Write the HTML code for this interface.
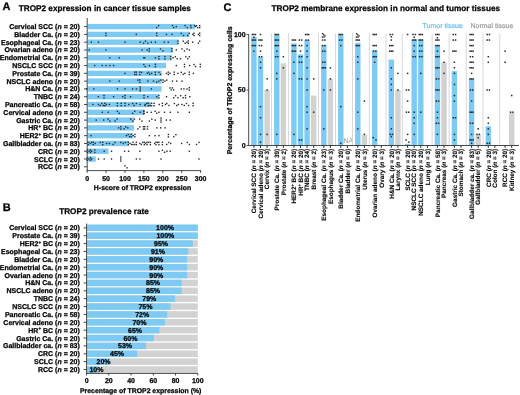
<!DOCTYPE html>
<html><head><meta charset="utf-8"><style>
html,body{margin:0;padding:0;background:#fff;width:520px;height:395px;overflow:hidden}
svg{display:block;will-change:transform;text-rendering:geometricPrecision;font-family:"Liberation Sans",sans-serif}

</style></head><body>
<svg width="520" height="395" viewBox="0 0 520 395">
<text x="2.60" y="9.90" font-size="11" text-anchor="start" font-weight="bold" fill="#000" stroke="#000" stroke-width="0.25" >A</text>
<text x="18.80" y="11.20" font-size="8.2" text-anchor="start" font-weight="bold" fill="#000" stroke="#000" stroke-width="0.25" >TROP2 expression in cancer tissue samples</text>
<rect x="87.70" y="23.90" width="107.30" height="5.40" fill="#7dcbf4"/>
<line x1="84.00" y1="26.60" x2="87.20" y2="26.60" stroke="#333" stroke-width="0.9"/>
<text x="79.80" y="29.10" font-size="7" text-anchor="end" font-weight="bold" fill="#000" stroke="#000" stroke-width="0.25" >Cervical SCC (<tspan font-style="italic">n</tspan> = 20)</text>
<rect x="87.70" y="31.69" width="101.60" height="5.40" fill="#7dcbf4"/>
<line x1="84.00" y1="34.39" x2="87.20" y2="34.39" stroke="#333" stroke-width="0.9"/>
<text x="79.80" y="36.89" font-size="7" text-anchor="end" font-weight="bold" fill="#000" stroke="#000" stroke-width="0.25" >Bladder Ca. (<tspan font-style="italic">n</tspan> = 20)</text>
<rect x="87.70" y="39.48" width="90.80" height="5.40" fill="#7dcbf4"/>
<line x1="84.00" y1="42.18" x2="87.20" y2="42.18" stroke="#333" stroke-width="0.9"/>
<text x="79.80" y="44.68" font-size="7" text-anchor="end" font-weight="bold" fill="#000" stroke="#000" stroke-width="0.25" >Esophageal Ca. (<tspan font-style="italic">n</tspan> = 23)</text>
<rect x="87.70" y="47.27" width="85.10" height="5.40" fill="#7dcbf4"/>
<line x1="84.00" y1="49.97" x2="87.20" y2="49.97" stroke="#333" stroke-width="0.9"/>
<text x="79.80" y="52.47" font-size="7" text-anchor="end" font-weight="bold" fill="#000" stroke="#000" stroke-width="0.25" >Ovarian adeno (<tspan font-style="italic">n</tspan> = 20)</text>
<rect x="87.70" y="55.06" width="83.90" height="5.40" fill="#7dcbf4"/>
<line x1="84.00" y1="57.76" x2="87.20" y2="57.76" stroke="#333" stroke-width="0.9"/>
<text x="79.80" y="60.26" font-size="7" text-anchor="end" font-weight="bold" fill="#000" stroke="#000" stroke-width="0.25" >Endometrial Ca. (<tspan font-style="italic">n</tspan> = 20)</text>
<rect x="87.70" y="62.85" width="78.30" height="5.40" fill="#7dcbf4"/>
<line x1="84.00" y1="65.55" x2="87.20" y2="65.55" stroke="#333" stroke-width="0.9"/>
<text x="79.80" y="68.05" font-size="7" text-anchor="end" font-weight="bold" fill="#000" stroke="#000" stroke-width="0.25" >NSCLC SCC (<tspan font-style="italic">n</tspan> = 20)</text>
<rect x="87.70" y="70.64" width="73.90" height="5.40" fill="#7dcbf4"/>
<line x1="84.00" y1="73.34" x2="87.20" y2="73.34" stroke="#333" stroke-width="0.9"/>
<text x="79.80" y="75.84" font-size="7" text-anchor="end" font-weight="bold" fill="#000" stroke="#000" stroke-width="0.25" >Prostate Ca. (<tspan font-style="italic">n</tspan> = 39)</text>
<rect x="87.70" y="78.43" width="73.90" height="5.40" fill="#7dcbf4"/>
<line x1="84.00" y1="81.13" x2="87.20" y2="81.13" stroke="#333" stroke-width="0.9"/>
<text x="79.80" y="83.63" font-size="7" text-anchor="end" font-weight="bold" fill="#000" stroke="#000" stroke-width="0.25" >NSCLC adeno (<tspan font-style="italic">n</tspan> = 20)</text>
<rect x="87.70" y="86.22" width="73.90" height="5.40" fill="#7dcbf4"/>
<line x1="84.00" y1="88.92" x2="87.20" y2="88.92" stroke="#333" stroke-width="0.9"/>
<text x="79.80" y="91.42" font-size="7" text-anchor="end" font-weight="bold" fill="#000" stroke="#000" stroke-width="0.25" >H&amp;N Ca. (<tspan font-style="italic">n</tspan> = 20)</text>
<rect x="87.70" y="94.01" width="71.00" height="5.40" fill="#7dcbf4"/>
<line x1="84.00" y1="96.71" x2="87.20" y2="96.71" stroke="#333" stroke-width="0.9"/>
<text x="79.80" y="99.21" font-size="7" text-anchor="end" font-weight="bold" fill="#000" stroke="#000" stroke-width="0.25" >TNBC (<tspan font-style="italic">n</tspan> = 24)</text>
<rect x="87.70" y="101.80" width="63.30" height="5.40" fill="#7dcbf4"/>
<line x1="84.00" y1="104.50" x2="87.20" y2="104.50" stroke="#333" stroke-width="0.9"/>
<text x="79.80" y="107.00" font-size="7" text-anchor="end" font-weight="bold" fill="#000" stroke="#000" stroke-width="0.25" >Pancreatic Ca. (<tspan font-style="italic">n</tspan> = 58)</text>
<rect x="87.70" y="109.59" width="56.70" height="5.40" fill="#7dcbf4"/>
<line x1="84.00" y1="112.29" x2="87.20" y2="112.29" stroke="#333" stroke-width="0.9"/>
<text x="79.80" y="114.79" font-size="7" text-anchor="end" font-weight="bold" fill="#000" stroke="#000" stroke-width="0.25" >Cervical adeno (<tspan font-style="italic">n</tspan> = 20)</text>
<rect x="87.70" y="117.38" width="46.30" height="5.40" fill="#7dcbf4"/>
<line x1="84.00" y1="120.08" x2="87.20" y2="120.08" stroke="#333" stroke-width="0.9"/>
<text x="79.80" y="122.58" font-size="7" text-anchor="end" font-weight="bold" fill="#000" stroke="#000" stroke-width="0.25" >Gastric Ca. (<tspan font-style="italic">n</tspan> = 20)</text>
<rect x="87.70" y="125.17" width="46.30" height="5.40" fill="#7dcbf4"/>
<line x1="84.00" y1="127.87" x2="87.20" y2="127.87" stroke="#333" stroke-width="0.9"/>
<text x="79.80" y="130.37" font-size="7" text-anchor="end" font-weight="bold" fill="#000" stroke="#000" stroke-width="0.25" >HR<tspan font-size='4.5' dy='-2.5'>+</tspan><tspan dy='2.5'> BC</tspan> (<tspan font-style="italic">n</tspan> = 20)</text>
<rect x="87.70" y="132.96" width="45.50" height="5.40" fill="#7dcbf4"/>
<line x1="84.00" y1="135.66" x2="87.20" y2="135.66" stroke="#333" stroke-width="0.9"/>
<text x="79.80" y="138.16" font-size="7" text-anchor="end" font-weight="bold" fill="#000" stroke="#000" stroke-width="0.25" >HER2<tspan font-size='4.5' dy='-2.5'>+</tspan><tspan dy='2.5'> BC</tspan> (<tspan font-style="italic">n</tspan> = 20)</text>
<rect x="87.70" y="140.75" width="41.30" height="5.40" fill="#7dcbf4"/>
<line x1="84.00" y1="143.45" x2="87.20" y2="143.45" stroke="#333" stroke-width="0.9"/>
<text x="79.80" y="145.95" font-size="7" text-anchor="end" font-weight="bold" fill="#000" stroke="#000" stroke-width="0.25" >Gallbladder ca. (<tspan font-style="italic">n</tspan> = 83)</text>
<rect x="87.70" y="148.54" width="20.80" height="5.40" fill="#7dcbf4"/>
<line x1="84.00" y1="151.24" x2="87.20" y2="151.24" stroke="#333" stroke-width="0.9"/>
<text x="79.80" y="153.74" font-size="7" text-anchor="end" font-weight="bold" fill="#000" stroke="#000" stroke-width="0.25" >CRC (<tspan font-style="italic">n</tspan> = 20)</text>
<rect x="87.70" y="156.33" width="8.10" height="5.40" fill="#7dcbf4"/>
<line x1="84.00" y1="159.03" x2="87.20" y2="159.03" stroke="#333" stroke-width="0.9"/>
<text x="79.80" y="161.53" font-size="7" text-anchor="end" font-weight="bold" fill="#000" stroke="#000" stroke-width="0.25" >SCLC (<tspan font-style="italic">n</tspan> = 20)</text>
<line x1="84.00" y1="166.82" x2="87.20" y2="166.82" stroke="#333" stroke-width="0.9"/>
<text x="79.80" y="169.32" font-size="7" text-anchor="end" font-weight="bold" fill="#000" stroke="#000" stroke-width="0.25" >RCC (<tspan font-style="italic">n</tspan> = 20)</text>
<rect x="156.00" y="26.90" width="1.40" height="1.40" fill="#2a2a2a"/>
<rect x="157.90" y="24.90" width="1.40" height="1.40" fill="#2a2a2a"/>
<rect x="171.80" y="24.90" width="1.40" height="1.40" fill="#2a2a2a"/>
<rect x="173.00" y="26.90" width="1.40" height="1.40" fill="#2a2a2a"/>
<rect x="175.60" y="25.90" width="1.40" height="1.40" fill="#2a2a2a"/>
<rect x="184.40" y="24.90" width="1.40" height="1.40" fill="#2a2a2a"/>
<rect x="186.60" y="26.90" width="1.40" height="1.40" fill="#2a2a2a"/>
<rect x="190.10" y="24.90" width="1.40" height="1.40" fill="#2a2a2a"/>
<rect x="190.30" y="26.90" width="1.40" height="1.40" fill="#2a2a2a"/>
<rect x="193.90" y="24.90" width="1.40" height="1.40" fill="#2a2a2a"/>
<rect x="194.90" y="25.90" width="1.40" height="1.40" fill="#2a2a2a"/>
<rect x="195.80" y="24.90" width="1.40" height="1.40" fill="#2a2a2a"/>
<rect x="197.10" y="26.90" width="1.40" height="1.40" fill="#2a2a2a"/>
<rect x="199.00" y="24.90" width="1.40" height="1.40" fill="#2a2a2a"/>
<rect x="199.00" y="26.90" width="1.40" height="1.40" fill="#2a2a2a"/>
<rect x="105.20" y="32.49" width="1.40" height="1.40" fill="#2a2a2a"/>
<rect x="105.20" y="34.89" width="1.40" height="1.40" fill="#2a2a2a"/>
<rect x="135.60" y="33.69" width="1.40" height="1.40" fill="#2a2a2a"/>
<rect x="156.00" y="32.49" width="1.40" height="1.40" fill="#2a2a2a"/>
<rect x="156.00" y="34.89" width="1.40" height="1.40" fill="#2a2a2a"/>
<rect x="165.80" y="33.69" width="1.40" height="1.40" fill="#2a2a2a"/>
<rect x="171.40" y="33.69" width="1.40" height="1.40" fill="#2a2a2a"/>
<rect x="180.60" y="32.69" width="1.40" height="1.40" fill="#2a2a2a"/>
<rect x="182.80" y="34.69" width="1.40" height="1.40" fill="#2a2a2a"/>
<rect x="187.00" y="34.69" width="1.40" height="1.40" fill="#2a2a2a"/>
<rect x="188.60" y="32.69" width="1.40" height="1.40" fill="#2a2a2a"/>
<rect x="192.00" y="33.69" width="1.40" height="1.40" fill="#2a2a2a"/>
<rect x="193.30" y="32.49" width="1.40" height="1.40" fill="#2a2a2a"/>
<rect x="193.30" y="34.89" width="1.40" height="1.40" fill="#2a2a2a"/>
<rect x="197.70" y="33.69" width="1.40" height="1.40" fill="#2a2a2a"/>
<rect x="199.00" y="32.49" width="1.40" height="1.40" fill="#2a2a2a"/>
<rect x="199.00" y="34.89" width="1.40" height="1.40" fill="#2a2a2a"/>
<rect x="90.60" y="41.48" width="1.40" height="1.40" fill="#2a2a2a"/>
<rect x="97.70" y="41.48" width="1.40" height="1.40" fill="#2a2a2a"/>
<rect x="124.30" y="41.48" width="1.40" height="1.40" fill="#2a2a2a"/>
<rect x="139.50" y="41.48" width="1.40" height="1.40" fill="#2a2a2a"/>
<rect x="142.90" y="42.48" width="1.40" height="1.40" fill="#2a2a2a"/>
<rect x="144.80" y="40.48" width="1.40" height="1.40" fill="#2a2a2a"/>
<rect x="147.10" y="42.48" width="1.40" height="1.40" fill="#2a2a2a"/>
<rect x="150.60" y="41.48" width="1.40" height="1.40" fill="#2a2a2a"/>
<rect x="154.70" y="41.48" width="1.40" height="1.40" fill="#2a2a2a"/>
<rect x="163.60" y="41.48" width="1.40" height="1.40" fill="#2a2a2a"/>
<rect x="167.60" y="41.48" width="1.40" height="1.40" fill="#2a2a2a"/>
<rect x="177.20" y="40.28" width="1.40" height="1.40" fill="#2a2a2a"/>
<rect x="177.20" y="42.68" width="1.40" height="1.40" fill="#2a2a2a"/>
<rect x="182.50" y="40.48" width="1.40" height="1.40" fill="#2a2a2a"/>
<rect x="184.40" y="42.48" width="1.40" height="1.40" fill="#2a2a2a"/>
<rect x="186.30" y="41.48" width="1.40" height="1.40" fill="#2a2a2a"/>
<rect x="187.60" y="40.28" width="1.40" height="1.40" fill="#2a2a2a"/>
<rect x="187.60" y="42.68" width="1.40" height="1.40" fill="#2a2a2a"/>
<rect x="192.00" y="41.48" width="1.40" height="1.40" fill="#2a2a2a"/>
<rect x="197.70" y="42.48" width="1.40" height="1.40" fill="#2a2a2a"/>
<rect x="199.00" y="40.48" width="1.40" height="1.40" fill="#2a2a2a"/>
<rect x="88.50" y="49.27" width="1.40" height="1.40" fill="#2a2a2a"/>
<rect x="105.20" y="49.27" width="1.40" height="1.40" fill="#2a2a2a"/>
<rect x="141.40" y="49.27" width="1.40" height="1.40" fill="#2a2a2a"/>
<rect x="146.50" y="49.27" width="1.40" height="1.40" fill="#2a2a2a"/>
<rect x="148.60" y="48.07" width="1.40" height="1.40" fill="#2a2a2a"/>
<rect x="148.60" y="50.47" width="1.40" height="1.40" fill="#2a2a2a"/>
<rect x="159.80" y="48.27" width="1.40" height="1.40" fill="#2a2a2a"/>
<rect x="162.30" y="50.27" width="1.40" height="1.40" fill="#2a2a2a"/>
<rect x="171.10" y="48.07" width="1.40" height="1.40" fill="#2a2a2a"/>
<rect x="171.10" y="50.47" width="1.40" height="1.40" fill="#2a2a2a"/>
<rect x="175.60" y="49.27" width="1.40" height="1.40" fill="#2a2a2a"/>
<rect x="181.30" y="48.27" width="1.40" height="1.40" fill="#2a2a2a"/>
<rect x="183.80" y="50.27" width="1.40" height="1.40" fill="#2a2a2a"/>
<rect x="186.30" y="48.27" width="1.40" height="1.40" fill="#2a2a2a"/>
<rect x="188.60" y="49.27" width="1.40" height="1.40" fill="#2a2a2a"/>
<rect x="109.10" y="57.06" width="1.40" height="1.40" fill="#2a2a2a"/>
<rect x="118.50" y="57.06" width="1.40" height="1.40" fill="#2a2a2a"/>
<rect x="143.10" y="57.06" width="1.40" height="1.40" fill="#2a2a2a"/>
<rect x="143.90" y="57.06" width="1.40" height="1.40" fill="#2a2a2a"/>
<rect x="154.70" y="57.06" width="1.40" height="1.40" fill="#2a2a2a"/>
<rect x="158.20" y="55.86" width="1.40" height="1.40" fill="#2a2a2a"/>
<rect x="158.20" y="58.26" width="1.40" height="1.40" fill="#2a2a2a"/>
<rect x="164.20" y="55.86" width="1.40" height="1.40" fill="#2a2a2a"/>
<rect x="164.20" y="58.26" width="1.40" height="1.40" fill="#2a2a2a"/>
<rect x="169.90" y="55.86" width="1.40" height="1.40" fill="#2a2a2a"/>
<rect x="169.90" y="58.26" width="1.40" height="1.40" fill="#2a2a2a"/>
<rect x="172.40" y="57.06" width="1.40" height="1.40" fill="#2a2a2a"/>
<rect x="174.70" y="56.06" width="1.40" height="1.40" fill="#2a2a2a"/>
<rect x="176.50" y="58.06" width="1.40" height="1.40" fill="#2a2a2a"/>
<rect x="179.80" y="58.06" width="1.40" height="1.40" fill="#2a2a2a"/>
<rect x="185.10" y="56.06" width="1.40" height="1.40" fill="#2a2a2a"/>
<rect x="187.00" y="58.06" width="1.40" height="1.40" fill="#2a2a2a"/>
<rect x="188.60" y="56.06" width="1.40" height="1.40" fill="#2a2a2a"/>
<rect x="93.90" y="64.85" width="1.40" height="1.40" fill="#2a2a2a"/>
<rect x="101.50" y="64.85" width="1.40" height="1.40" fill="#2a2a2a"/>
<rect x="105.30" y="64.85" width="1.40" height="1.40" fill="#2a2a2a"/>
<rect x="109.10" y="64.85" width="1.40" height="1.40" fill="#2a2a2a"/>
<rect x="112.90" y="64.85" width="1.40" height="1.40" fill="#2a2a2a"/>
<rect x="143.10" y="63.85" width="1.40" height="1.40" fill="#2a2a2a"/>
<rect x="144.50" y="65.85" width="1.40" height="1.40" fill="#2a2a2a"/>
<rect x="148.60" y="64.85" width="1.40" height="1.40" fill="#2a2a2a"/>
<rect x="154.70" y="63.65" width="1.40" height="1.40" fill="#2a2a2a"/>
<rect x="154.70" y="66.05" width="1.40" height="1.40" fill="#2a2a2a"/>
<rect x="175.60" y="64.85" width="1.40" height="1.40" fill="#2a2a2a"/>
<rect x="183.80" y="63.65" width="1.40" height="1.40" fill="#2a2a2a"/>
<rect x="183.80" y="66.05" width="1.40" height="1.40" fill="#2a2a2a"/>
<rect x="188.90" y="64.85" width="1.40" height="1.40" fill="#2a2a2a"/>
<rect x="193.30" y="63.85" width="1.40" height="1.40" fill="#2a2a2a"/>
<rect x="194.90" y="65.85" width="1.40" height="1.40" fill="#2a2a2a"/>
<rect x="199.60" y="63.65" width="1.40" height="1.40" fill="#2a2a2a"/>
<rect x="199.60" y="66.05" width="1.40" height="1.40" fill="#2a2a2a"/>
<rect x="124.30" y="72.64" width="1.40" height="1.40" fill="#2a2a2a"/>
<rect x="134.00" y="71.44" width="1.40" height="1.40" fill="#2a2a2a"/>
<rect x="134.00" y="73.84" width="1.40" height="1.40" fill="#2a2a2a"/>
<rect x="135.70" y="71.44" width="1.40" height="1.40" fill="#2a2a2a"/>
<rect x="135.70" y="73.84" width="1.40" height="1.40" fill="#2a2a2a"/>
<rect x="139.10" y="71.44" width="1.40" height="1.40" fill="#2a2a2a"/>
<rect x="139.10" y="73.84" width="1.40" height="1.40" fill="#2a2a2a"/>
<rect x="141.00" y="71.64" width="1.40" height="1.40" fill="#2a2a2a"/>
<rect x="146.50" y="72.64" width="1.40" height="1.40" fill="#2a2a2a"/>
<rect x="147.90" y="71.64" width="1.40" height="1.40" fill="#2a2a2a"/>
<rect x="148.90" y="73.64" width="1.40" height="1.40" fill="#2a2a2a"/>
<rect x="150.90" y="72.64" width="1.40" height="1.40" fill="#2a2a2a"/>
<rect x="154.70" y="71.44" width="1.40" height="1.40" fill="#2a2a2a"/>
<rect x="154.70" y="73.84" width="1.40" height="1.40" fill="#2a2a2a"/>
<rect x="158.20" y="71.64" width="1.40" height="1.40" fill="#2a2a2a"/>
<rect x="159.80" y="73.64" width="1.40" height="1.40" fill="#2a2a2a"/>
<rect x="165.80" y="72.64" width="1.40" height="1.40" fill="#2a2a2a"/>
<rect x="167.60" y="71.44" width="1.40" height="1.40" fill="#2a2a2a"/>
<rect x="167.60" y="73.84" width="1.40" height="1.40" fill="#2a2a2a"/>
<rect x="169.30" y="72.64" width="1.40" height="1.40" fill="#2a2a2a"/>
<rect x="173.40" y="71.44" width="1.40" height="1.40" fill="#2a2a2a"/>
<rect x="173.40" y="73.84" width="1.40" height="1.40" fill="#2a2a2a"/>
<rect x="177.20" y="72.64" width="1.40" height="1.40" fill="#2a2a2a"/>
<rect x="180.60" y="71.64" width="1.40" height="1.40" fill="#2a2a2a"/>
<rect x="182.50" y="73.64" width="1.40" height="1.40" fill="#2a2a2a"/>
<rect x="184.10" y="72.64" width="1.40" height="1.40" fill="#2a2a2a"/>
<rect x="188.60" y="71.44" width="1.40" height="1.40" fill="#2a2a2a"/>
<rect x="188.60" y="73.84" width="1.40" height="1.40" fill="#2a2a2a"/>
<rect x="192.70" y="72.64" width="1.40" height="1.40" fill="#2a2a2a"/>
<rect x="109.10" y="80.43" width="1.40" height="1.40" fill="#2a2a2a"/>
<rect x="118.50" y="80.43" width="1.40" height="1.40" fill="#2a2a2a"/>
<rect x="137.20" y="79.43" width="1.40" height="1.40" fill="#2a2a2a"/>
<rect x="139.10" y="79.23" width="1.40" height="1.40" fill="#2a2a2a"/>
<rect x="139.10" y="81.63" width="1.40" height="1.40" fill="#2a2a2a"/>
<rect x="147.10" y="80.43" width="1.40" height="1.40" fill="#2a2a2a"/>
<rect x="152.80" y="80.43" width="1.40" height="1.40" fill="#2a2a2a"/>
<rect x="156.00" y="81.43" width="1.40" height="1.40" fill="#2a2a2a"/>
<rect x="158.20" y="80.43" width="1.40" height="1.40" fill="#2a2a2a"/>
<rect x="160.30" y="79.43" width="1.40" height="1.40" fill="#2a2a2a"/>
<rect x="162.30" y="79.23" width="1.40" height="1.40" fill="#2a2a2a"/>
<rect x="162.30" y="81.63" width="1.40" height="1.40" fill="#2a2a2a"/>
<rect x="164.20" y="80.43" width="1.40" height="1.40" fill="#2a2a2a"/>
<rect x="166.10" y="79.43" width="1.40" height="1.40" fill="#2a2a2a"/>
<rect x="171.80" y="80.43" width="1.40" height="1.40" fill="#2a2a2a"/>
<rect x="176.00" y="80.43" width="1.40" height="1.40" fill="#2a2a2a"/>
<rect x="181.30" y="80.43" width="1.40" height="1.40" fill="#2a2a2a"/>
<rect x="85.90" y="88.22" width="1.40" height="1.40" fill="#2a2a2a"/>
<rect x="93.10" y="88.22" width="1.40" height="1.40" fill="#2a2a2a"/>
<rect x="116.70" y="88.22" width="1.40" height="1.40" fill="#2a2a2a"/>
<rect x="124.30" y="88.22" width="1.40" height="1.40" fill="#2a2a2a"/>
<rect x="131.90" y="88.22" width="1.40" height="1.40" fill="#2a2a2a"/>
<rect x="135.70" y="88.22" width="1.40" height="1.40" fill="#2a2a2a"/>
<rect x="139.50" y="86.22" width="1.40" height="1.40" fill="#2a2a2a"/>
<rect x="139.50" y="88.22" width="1.40" height="1.40" fill="#2a2a2a"/>
<rect x="139.50" y="90.22" width="1.40" height="1.40" fill="#2a2a2a"/>
<rect x="150.60" y="88.22" width="1.40" height="1.40" fill="#2a2a2a"/>
<rect x="169.30" y="87.22" width="1.40" height="1.40" fill="#2a2a2a"/>
<rect x="170.50" y="89.22" width="1.40" height="1.40" fill="#2a2a2a"/>
<rect x="171.70" y="87.22" width="1.40" height="1.40" fill="#2a2a2a"/>
<rect x="173.00" y="89.22" width="1.40" height="1.40" fill="#2a2a2a"/>
<rect x="180.60" y="88.22" width="1.40" height="1.40" fill="#2a2a2a"/>
<rect x="183.20" y="88.22" width="1.40" height="1.40" fill="#2a2a2a"/>
<rect x="186.30" y="88.22" width="1.40" height="1.40" fill="#2a2a2a"/>
<rect x="188.60" y="87.02" width="1.40" height="1.40" fill="#2a2a2a"/>
<rect x="188.60" y="89.42" width="1.40" height="1.40" fill="#2a2a2a"/>
<rect x="97.70" y="96.01" width="1.40" height="1.40" fill="#2a2a2a"/>
<rect x="103.30" y="94.81" width="1.40" height="1.40" fill="#2a2a2a"/>
<rect x="103.30" y="97.21" width="1.40" height="1.40" fill="#2a2a2a"/>
<rect x="112.90" y="96.01" width="1.40" height="1.40" fill="#2a2a2a"/>
<rect x="122.00" y="96.01" width="1.40" height="1.40" fill="#2a2a2a"/>
<rect x="124.30" y="94.81" width="1.40" height="1.40" fill="#2a2a2a"/>
<rect x="124.30" y="97.21" width="1.40" height="1.40" fill="#2a2a2a"/>
<rect x="129.90" y="96.01" width="1.40" height="1.40" fill="#2a2a2a"/>
<rect x="143.30" y="94.81" width="1.40" height="1.40" fill="#2a2a2a"/>
<rect x="143.30" y="97.21" width="1.40" height="1.40" fill="#2a2a2a"/>
<rect x="147.10" y="96.01" width="1.40" height="1.40" fill="#2a2a2a"/>
<rect x="156.00" y="96.01" width="1.40" height="1.40" fill="#2a2a2a"/>
<rect x="158.20" y="94.81" width="1.40" height="1.40" fill="#2a2a2a"/>
<rect x="158.20" y="97.21" width="1.40" height="1.40" fill="#2a2a2a"/>
<rect x="165.80" y="96.01" width="1.40" height="1.40" fill="#2a2a2a"/>
<rect x="173.00" y="97.01" width="1.40" height="1.40" fill="#2a2a2a"/>
<rect x="174.90" y="95.01" width="1.40" height="1.40" fill="#2a2a2a"/>
<rect x="177.20" y="97.01" width="1.40" height="1.40" fill="#2a2a2a"/>
<rect x="180.00" y="95.01" width="1.40" height="1.40" fill="#2a2a2a"/>
<rect x="182.50" y="97.01" width="1.40" height="1.40" fill="#2a2a2a"/>
<rect x="184.80" y="94.81" width="1.40" height="1.40" fill="#2a2a2a"/>
<rect x="184.80" y="97.21" width="1.40" height="1.40" fill="#2a2a2a"/>
<rect x="189.10" y="96.01" width="1.40" height="1.40" fill="#2a2a2a"/>
<rect x="92.30" y="103.80" width="1.40" height="1.40" fill="#2a2a2a"/>
<rect x="97.70" y="103.80" width="1.40" height="1.40" fill="#2a2a2a"/>
<rect x="99.50" y="104.80" width="1.40" height="1.40" fill="#2a2a2a"/>
<rect x="101.10" y="102.80" width="1.40" height="1.40" fill="#2a2a2a"/>
<rect x="102.60" y="104.80" width="1.40" height="1.40" fill="#2a2a2a"/>
<rect x="104.10" y="102.60" width="1.40" height="1.40" fill="#2a2a2a"/>
<rect x="104.10" y="105.00" width="1.40" height="1.40" fill="#2a2a2a"/>
<rect x="105.60" y="103.80" width="1.40" height="1.40" fill="#2a2a2a"/>
<rect x="108.70" y="103.80" width="1.40" height="1.40" fill="#2a2a2a"/>
<rect x="116.70" y="102.60" width="1.40" height="1.40" fill="#2a2a2a"/>
<rect x="116.70" y="105.00" width="1.40" height="1.40" fill="#2a2a2a"/>
<rect x="120.50" y="102.60" width="1.40" height="1.40" fill="#2a2a2a"/>
<rect x="120.50" y="105.00" width="1.40" height="1.40" fill="#2a2a2a"/>
<rect x="124.30" y="102.60" width="1.40" height="1.40" fill="#2a2a2a"/>
<rect x="124.30" y="105.00" width="1.40" height="1.40" fill="#2a2a2a"/>
<rect x="128.10" y="103.80" width="1.40" height="1.40" fill="#2a2a2a"/>
<rect x="131.90" y="102.80" width="1.40" height="1.40" fill="#2a2a2a"/>
<rect x="133.40" y="104.80" width="1.40" height="1.40" fill="#2a2a2a"/>
<rect x="135.70" y="102.80" width="1.40" height="1.40" fill="#2a2a2a"/>
<rect x="139.50" y="103.80" width="1.40" height="1.40" fill="#2a2a2a"/>
<rect x="144.20" y="104.80" width="1.40" height="1.40" fill="#2a2a2a"/>
<rect x="144.60" y="103.80" width="1.40" height="1.40" fill="#2a2a2a"/>
<rect x="146.10" y="102.80" width="1.40" height="1.40" fill="#2a2a2a"/>
<rect x="147.60" y="102.60" width="1.40" height="1.40" fill="#2a2a2a"/>
<rect x="147.60" y="105.00" width="1.40" height="1.40" fill="#2a2a2a"/>
<rect x="149.30" y="104.80" width="1.40" height="1.40" fill="#2a2a2a"/>
<rect x="150.90" y="102.60" width="1.40" height="1.40" fill="#2a2a2a"/>
<rect x="150.90" y="105.00" width="1.40" height="1.40" fill="#2a2a2a"/>
<rect x="153.40" y="102.60" width="1.40" height="1.40" fill="#2a2a2a"/>
<rect x="153.40" y="105.00" width="1.40" height="1.40" fill="#2a2a2a"/>
<rect x="158.50" y="103.80" width="1.40" height="1.40" fill="#2a2a2a"/>
<rect x="161.70" y="102.60" width="1.40" height="1.40" fill="#2a2a2a"/>
<rect x="161.70" y="105.00" width="1.40" height="1.40" fill="#2a2a2a"/>
<rect x="164.80" y="103.80" width="1.40" height="1.40" fill="#2a2a2a"/>
<rect x="166.10" y="102.80" width="1.40" height="1.40" fill="#2a2a2a"/>
<rect x="168.30" y="104.80" width="1.40" height="1.40" fill="#2a2a2a"/>
<rect x="173.70" y="102.80" width="1.40" height="1.40" fill="#2a2a2a"/>
<rect x="176.00" y="104.80" width="1.40" height="1.40" fill="#2a2a2a"/>
<rect x="177.70" y="103.80" width="1.40" height="1.40" fill="#2a2a2a"/>
<rect x="181.30" y="103.80" width="1.40" height="1.40" fill="#2a2a2a"/>
<rect x="183.60" y="104.80" width="1.40" height="1.40" fill="#2a2a2a"/>
<rect x="185.70" y="102.80" width="1.40" height="1.40" fill="#2a2a2a"/>
<rect x="187.90" y="104.80" width="1.40" height="1.40" fill="#2a2a2a"/>
<rect x="192.40" y="102.60" width="1.40" height="1.40" fill="#2a2a2a"/>
<rect x="192.40" y="105.00" width="1.40" height="1.40" fill="#2a2a2a"/>
<rect x="101.50" y="111.59" width="1.40" height="1.40" fill="#2a2a2a"/>
<rect x="107.50" y="111.59" width="1.40" height="1.40" fill="#2a2a2a"/>
<rect x="116.70" y="110.59" width="1.40" height="1.40" fill="#2a2a2a"/>
<rect x="118.50" y="112.59" width="1.40" height="1.40" fill="#2a2a2a"/>
<rect x="131.90" y="112.59" width="1.40" height="1.40" fill="#2a2a2a"/>
<rect x="134.00" y="110.59" width="1.40" height="1.40" fill="#2a2a2a"/>
<rect x="139.50" y="111.59" width="1.40" height="1.40" fill="#2a2a2a"/>
<rect x="142.90" y="110.39" width="1.40" height="1.40" fill="#2a2a2a"/>
<rect x="142.90" y="112.79" width="1.40" height="1.40" fill="#2a2a2a"/>
<rect x="143.30" y="110.39" width="1.40" height="1.40" fill="#2a2a2a"/>
<rect x="143.30" y="112.79" width="1.40" height="1.40" fill="#2a2a2a"/>
<rect x="146.50" y="111.59" width="1.40" height="1.40" fill="#2a2a2a"/>
<rect x="150.60" y="111.59" width="1.40" height="1.40" fill="#2a2a2a"/>
<rect x="154.40" y="110.59" width="1.40" height="1.40" fill="#2a2a2a"/>
<rect x="156.00" y="112.59" width="1.40" height="1.40" fill="#2a2a2a"/>
<rect x="158.20" y="111.59" width="1.40" height="1.40" fill="#2a2a2a"/>
<rect x="163.80" y="111.59" width="1.40" height="1.40" fill="#2a2a2a"/>
<rect x="169.60" y="111.59" width="1.40" height="1.40" fill="#2a2a2a"/>
<rect x="177.20" y="111.59" width="1.40" height="1.40" fill="#2a2a2a"/>
<rect x="188.60" y="111.59" width="1.40" height="1.40" fill="#2a2a2a"/>
<rect x="95.50" y="119.38" width="1.40" height="1.40" fill="#2a2a2a"/>
<rect x="103.00" y="119.38" width="1.40" height="1.40" fill="#2a2a2a"/>
<rect x="107.30" y="118.38" width="1.40" height="1.40" fill="#2a2a2a"/>
<rect x="109.10" y="120.38" width="1.40" height="1.40" fill="#2a2a2a"/>
<rect x="114.40" y="120.38" width="1.40" height="1.40" fill="#2a2a2a"/>
<rect x="116.50" y="118.38" width="1.40" height="1.40" fill="#2a2a2a"/>
<rect x="130.00" y="118.38" width="1.40" height="1.40" fill="#2a2a2a"/>
<rect x="132.10" y="120.38" width="1.40" height="1.40" fill="#2a2a2a"/>
<rect x="133.80" y="118.38" width="1.40" height="1.40" fill="#2a2a2a"/>
<rect x="138.90" y="118.38" width="1.40" height="1.40" fill="#2a2a2a"/>
<rect x="141.30" y="120.38" width="1.40" height="1.40" fill="#2a2a2a"/>
<rect x="148.70" y="120.38" width="1.40" height="1.40" fill="#2a2a2a"/>
<rect x="151.10" y="118.38" width="1.40" height="1.40" fill="#2a2a2a"/>
<rect x="154.60" y="119.38" width="1.40" height="1.40" fill="#2a2a2a"/>
<rect x="160.30" y="117.38" width="1.40" height="1.40" fill="#2a2a2a"/>
<rect x="160.30" y="119.38" width="1.40" height="1.40" fill="#2a2a2a"/>
<rect x="160.30" y="121.38" width="1.40" height="1.40" fill="#2a2a2a"/>
<rect x="165.70" y="119.38" width="1.40" height="1.40" fill="#2a2a2a"/>
<rect x="169.50" y="119.38" width="1.40" height="1.40" fill="#2a2a2a"/>
<rect x="117.90" y="127.17" width="1.40" height="1.40" fill="#2a2a2a"/>
<rect x="120.10" y="125.97" width="1.40" height="1.40" fill="#2a2a2a"/>
<rect x="120.10" y="128.37" width="1.40" height="1.40" fill="#2a2a2a"/>
<rect x="123.30" y="128.17" width="1.40" height="1.40" fill="#2a2a2a"/>
<rect x="125.00" y="126.17" width="1.40" height="1.40" fill="#2a2a2a"/>
<rect x="127.10" y="127.17" width="1.40" height="1.40" fill="#2a2a2a"/>
<rect x="137.10" y="128.17" width="1.40" height="1.40" fill="#2a2a2a"/>
<rect x="139.20" y="126.17" width="1.40" height="1.40" fill="#2a2a2a"/>
<rect x="142.70" y="125.97" width="1.40" height="1.40" fill="#2a2a2a"/>
<rect x="142.70" y="128.37" width="1.40" height="1.40" fill="#2a2a2a"/>
<rect x="144.00" y="125.97" width="1.40" height="1.40" fill="#2a2a2a"/>
<rect x="144.00" y="128.37" width="1.40" height="1.40" fill="#2a2a2a"/>
<rect x="146.80" y="125.97" width="1.40" height="1.40" fill="#2a2a2a"/>
<rect x="146.80" y="128.37" width="1.40" height="1.40" fill="#2a2a2a"/>
<rect x="156.30" y="127.17" width="1.40" height="1.40" fill="#2a2a2a"/>
<rect x="160.00" y="127.17" width="1.40" height="1.40" fill="#2a2a2a"/>
<rect x="164.30" y="127.17" width="1.40" height="1.40" fill="#2a2a2a"/>
<rect x="90.30" y="134.96" width="1.40" height="1.40" fill="#2a2a2a"/>
<rect x="125.70" y="134.96" width="1.40" height="1.40" fill="#2a2a2a"/>
<rect x="127.50" y="133.96" width="1.40" height="1.40" fill="#2a2a2a"/>
<rect x="128.90" y="135.96" width="1.40" height="1.40" fill="#2a2a2a"/>
<rect x="130.50" y="133.76" width="1.40" height="1.40" fill="#2a2a2a"/>
<rect x="130.50" y="136.16" width="1.40" height="1.40" fill="#2a2a2a"/>
<rect x="132.50" y="134.96" width="1.40" height="1.40" fill="#2a2a2a"/>
<rect x="134.20" y="133.76" width="1.40" height="1.40" fill="#2a2a2a"/>
<rect x="134.20" y="136.16" width="1.40" height="1.40" fill="#2a2a2a"/>
<rect x="148.70" y="134.96" width="1.40" height="1.40" fill="#2a2a2a"/>
<rect x="154.30" y="134.96" width="1.40" height="1.40" fill="#2a2a2a"/>
<rect x="158.20" y="134.96" width="1.40" height="1.40" fill="#2a2a2a"/>
<rect x="167.70" y="133.76" width="1.40" height="1.40" fill="#2a2a2a"/>
<rect x="167.70" y="136.16" width="1.40" height="1.40" fill="#2a2a2a"/>
<rect x="173.10" y="135.96" width="1.40" height="1.40" fill="#2a2a2a"/>
<rect x="175.20" y="133.96" width="1.40" height="1.40" fill="#2a2a2a"/>
<rect x="87.40" y="141.55" width="1.40" height="1.40" fill="#2a2a2a"/>
<rect x="87.40" y="143.95" width="1.40" height="1.40" fill="#2a2a2a"/>
<rect x="89.30" y="142.75" width="1.40" height="1.40" fill="#2a2a2a"/>
<rect x="90.90" y="141.75" width="1.40" height="1.40" fill="#2a2a2a"/>
<rect x="92.60" y="141.55" width="1.40" height="1.40" fill="#2a2a2a"/>
<rect x="92.60" y="143.95" width="1.40" height="1.40" fill="#2a2a2a"/>
<rect x="94.50" y="142.75" width="1.40" height="1.40" fill="#2a2a2a"/>
<rect x="99.50" y="141.75" width="1.40" height="1.40" fill="#2a2a2a"/>
<rect x="102.00" y="141.55" width="1.40" height="1.40" fill="#2a2a2a"/>
<rect x="102.00" y="143.95" width="1.40" height="1.40" fill="#2a2a2a"/>
<rect x="105.90" y="142.75" width="1.40" height="1.40" fill="#2a2a2a"/>
<rect x="108.70" y="142.75" width="1.40" height="1.40" fill="#2a2a2a"/>
<rect x="112.30" y="143.75" width="1.40" height="1.40" fill="#2a2a2a"/>
<rect x="114.40" y="141.75" width="1.40" height="1.40" fill="#2a2a2a"/>
<rect x="120.10" y="141.75" width="1.40" height="1.40" fill="#2a2a2a"/>
<rect x="122.50" y="142.75" width="1.40" height="1.40" fill="#2a2a2a"/>
<rect x="124.70" y="141.75" width="1.40" height="1.40" fill="#2a2a2a"/>
<rect x="127.60" y="141.55" width="1.40" height="1.40" fill="#2a2a2a"/>
<rect x="127.60" y="143.95" width="1.40" height="1.40" fill="#2a2a2a"/>
<rect x="129.30" y="142.75" width="1.40" height="1.40" fill="#2a2a2a"/>
<rect x="130.80" y="143.75" width="1.40" height="1.40" fill="#2a2a2a"/>
<rect x="132.30" y="141.55" width="1.40" height="1.40" fill="#2a2a2a"/>
<rect x="132.30" y="143.95" width="1.40" height="1.40" fill="#2a2a2a"/>
<rect x="134.10" y="143.75" width="1.40" height="1.40" fill="#2a2a2a"/>
<rect x="135.70" y="141.55" width="1.40" height="1.40" fill="#2a2a2a"/>
<rect x="135.70" y="143.95" width="1.40" height="1.40" fill="#2a2a2a"/>
<rect x="139.20" y="142.75" width="1.40" height="1.40" fill="#2a2a2a"/>
<rect x="140.60" y="143.75" width="1.40" height="1.40" fill="#2a2a2a"/>
<rect x="142.10" y="141.75" width="1.40" height="1.40" fill="#2a2a2a"/>
<rect x="143.60" y="141.55" width="1.40" height="1.40" fill="#2a2a2a"/>
<rect x="143.60" y="143.95" width="1.40" height="1.40" fill="#2a2a2a"/>
<rect x="144.90" y="142.75" width="1.40" height="1.40" fill="#2a2a2a"/>
<rect x="146.30" y="141.55" width="1.40" height="1.40" fill="#2a2a2a"/>
<rect x="146.30" y="143.95" width="1.40" height="1.40" fill="#2a2a2a"/>
<rect x="147.90" y="141.75" width="1.40" height="1.40" fill="#2a2a2a"/>
<rect x="149.70" y="141.55" width="1.40" height="1.40" fill="#2a2a2a"/>
<rect x="149.70" y="143.95" width="1.40" height="1.40" fill="#2a2a2a"/>
<rect x="153.90" y="142.75" width="1.40" height="1.40" fill="#2a2a2a"/>
<rect x="155.30" y="141.55" width="1.40" height="1.40" fill="#2a2a2a"/>
<rect x="155.30" y="143.95" width="1.40" height="1.40" fill="#2a2a2a"/>
<rect x="156.80" y="141.75" width="1.40" height="1.40" fill="#2a2a2a"/>
<rect x="158.20" y="141.55" width="1.40" height="1.40" fill="#2a2a2a"/>
<rect x="158.20" y="143.95" width="1.40" height="1.40" fill="#2a2a2a"/>
<rect x="161.70" y="141.55" width="1.40" height="1.40" fill="#2a2a2a"/>
<rect x="161.70" y="143.95" width="1.40" height="1.40" fill="#2a2a2a"/>
<rect x="166.00" y="143.75" width="1.40" height="1.40" fill="#2a2a2a"/>
<rect x="168.10" y="141.75" width="1.40" height="1.40" fill="#2a2a2a"/>
<rect x="170.00" y="142.75" width="1.40" height="1.40" fill="#2a2a2a"/>
<rect x="180.90" y="142.75" width="1.40" height="1.40" fill="#2a2a2a"/>
<rect x="186.60" y="141.75" width="1.40" height="1.40" fill="#2a2a2a"/>
<rect x="188.70" y="143.75" width="1.40" height="1.40" fill="#2a2a2a"/>
<rect x="195.80" y="143.75" width="1.40" height="1.40" fill="#2a2a2a"/>
<rect x="198.30" y="141.75" width="1.40" height="1.40" fill="#2a2a2a"/>
<rect x="86.70" y="149.34" width="1.40" height="1.40" fill="#2a2a2a"/>
<rect x="86.70" y="151.74" width="1.40" height="1.40" fill="#2a2a2a"/>
<rect x="88.50" y="150.54" width="1.40" height="1.40" fill="#2a2a2a"/>
<rect x="89.80" y="149.34" width="1.40" height="1.40" fill="#2a2a2a"/>
<rect x="89.80" y="151.74" width="1.40" height="1.40" fill="#2a2a2a"/>
<rect x="91.00" y="150.54" width="1.40" height="1.40" fill="#2a2a2a"/>
<rect x="94.10" y="149.34" width="1.40" height="1.40" fill="#2a2a2a"/>
<rect x="94.10" y="151.74" width="1.40" height="1.40" fill="#2a2a2a"/>
<rect x="103.50" y="150.54" width="1.40" height="1.40" fill="#2a2a2a"/>
<rect x="110.80" y="150.54" width="1.40" height="1.40" fill="#2a2a2a"/>
<rect x="123.90" y="150.54" width="1.40" height="1.40" fill="#2a2a2a"/>
<rect x="127.90" y="150.54" width="1.40" height="1.40" fill="#2a2a2a"/>
<rect x="139.20" y="150.54" width="1.40" height="1.40" fill="#2a2a2a"/>
<rect x="158.20" y="150.54" width="1.40" height="1.40" fill="#2a2a2a"/>
<rect x="161.70" y="149.54" width="1.40" height="1.40" fill="#2a2a2a"/>
<rect x="163.90" y="151.54" width="1.40" height="1.40" fill="#2a2a2a"/>
<rect x="166.30" y="150.54" width="1.40" height="1.40" fill="#2a2a2a"/>
<rect x="169.50" y="150.54" width="1.40" height="1.40" fill="#2a2a2a"/>
<rect x="188.70" y="150.54" width="1.40" height="1.40" fill="#2a2a2a"/>
<rect x="86.50" y="157.13" width="1.40" height="1.40" fill="#2a2a2a"/>
<rect x="86.50" y="159.53" width="1.40" height="1.40" fill="#2a2a2a"/>
<rect x="88.30" y="158.33" width="1.40" height="1.40" fill="#2a2a2a"/>
<rect x="89.80" y="157.13" width="1.40" height="1.40" fill="#2a2a2a"/>
<rect x="89.80" y="159.53" width="1.40" height="1.40" fill="#2a2a2a"/>
<rect x="91.00" y="158.33" width="1.40" height="1.40" fill="#2a2a2a"/>
<rect x="97.80" y="158.33" width="1.40" height="1.40" fill="#2a2a2a"/>
<rect x="103.50" y="158.33" width="1.40" height="1.40" fill="#2a2a2a"/>
<rect x="110.80" y="158.33" width="1.40" height="1.40" fill="#2a2a2a"/>
<rect x="120.10" y="156.33" width="1.40" height="1.40" fill="#2a2a2a"/>
<rect x="120.10" y="158.33" width="1.40" height="1.40" fill="#2a2a2a"/>
<rect x="120.10" y="160.33" width="1.40" height="1.40" fill="#2a2a2a"/>
<rect x="135.70" y="158.33" width="1.40" height="1.40" fill="#2a2a2a"/>
<rect x="139.20" y="158.33" width="1.40" height="1.40" fill="#2a2a2a"/>
<rect x="160.30" y="158.33" width="1.40" height="1.40" fill="#2a2a2a"/>
<rect x="198.30" y="158.33" width="1.40" height="1.40" fill="#2a2a2a"/>
<rect x="124.30" y="165.12" width="1.40" height="1.40" fill="#2a2a2a"/>
<rect x="126.40" y="167.12" width="1.40" height="1.40" fill="#2a2a2a"/>
<line x1="87.20" y1="18.00" x2="87.20" y2="171.00" stroke="#333" stroke-width="0.9"/>
<line x1="86.75" y1="170.60" x2="201.00" y2="170.60" stroke="#333" stroke-width="0.9"/>
<line x1="87.20" y1="170.60" x2="87.20" y2="172.80" stroke="#333" stroke-width="0.9"/>
<text x="87.20" y="180.80" font-size="7" text-anchor="middle" font-weight="bold" fill="#000" stroke="#000" stroke-width="0.25" >0</text>
<line x1="106.10" y1="170.60" x2="106.10" y2="172.80" stroke="#333" stroke-width="0.9"/>
<text x="106.10" y="180.80" font-size="7" text-anchor="middle" font-weight="bold" fill="#000" stroke="#000" stroke-width="0.25" >50</text>
<line x1="125.00" y1="170.60" x2="125.00" y2="172.80" stroke="#333" stroke-width="0.9"/>
<text x="125.00" y="180.80" font-size="7" text-anchor="middle" font-weight="bold" fill="#000" stroke="#000" stroke-width="0.25" >100</text>
<line x1="143.90" y1="170.60" x2="143.90" y2="172.80" stroke="#333" stroke-width="0.9"/>
<text x="143.90" y="180.80" font-size="7" text-anchor="middle" font-weight="bold" fill="#000" stroke="#000" stroke-width="0.25" >150</text>
<line x1="162.80" y1="170.60" x2="162.80" y2="172.80" stroke="#333" stroke-width="0.9"/>
<text x="162.80" y="180.80" font-size="7" text-anchor="middle" font-weight="bold" fill="#000" stroke="#000" stroke-width="0.25" >200</text>
<line x1="181.70" y1="170.60" x2="181.70" y2="172.80" stroke="#333" stroke-width="0.9"/>
<text x="181.70" y="180.80" font-size="7" text-anchor="middle" font-weight="bold" fill="#000" stroke="#000" stroke-width="0.25" >250</text>
<line x1="200.60" y1="170.60" x2="200.60" y2="172.80" stroke="#333" stroke-width="0.9"/>
<text x="200.60" y="180.80" font-size="7" text-anchor="middle" font-weight="bold" fill="#000" stroke="#000" stroke-width="0.25" >300</text>
<text x="142.50" y="190.40" font-size="6.9" text-anchor="middle" font-weight="bold" fill="#000" stroke="#000" stroke-width="0.25" >H-score of TROP2 expression</text>
<text x="2.80" y="211.20" font-size="11" text-anchor="start" font-weight="bold" fill="#000" stroke="#000" stroke-width="0.25" >B</text>
<text x="59.20" y="213.50" font-size="8.2" text-anchor="start" font-weight="bold" fill="#000" stroke="#000" stroke-width="0.25" >TROP2 prevalence rate</text>
<rect x="87.10" y="224.60" width="110.70" height="6.50" fill="#d2d2d2"/>
<rect x="87.10" y="224.60" width="110.70" height="6.50" fill="#7dcbf4"/>
<line x1="83.60" y1="227.85" x2="86.60" y2="227.85" stroke="#333" stroke-width="0.9"/>
<text x="79.80" y="230.35" font-size="7" text-anchor="end" font-weight="bold" fill="#000" stroke="#000" stroke-width="0.25" >Cervical SCC (<tspan font-style="italic">n</tspan> = 20)</text>
<text x="174.00" y="230.35" font-size="7" text-anchor="end" font-weight="bold" fill="#000" stroke="#000" stroke-width="0.25" >100%</text>
<rect x="87.10" y="232.47" width="110.70" height="6.50" fill="#d2d2d2"/>
<rect x="87.10" y="232.47" width="110.70" height="6.50" fill="#7dcbf4"/>
<line x1="83.60" y1="235.72" x2="86.60" y2="235.72" stroke="#333" stroke-width="0.9"/>
<text x="79.80" y="238.22" font-size="7" text-anchor="end" font-weight="bold" fill="#000" stroke="#000" stroke-width="0.25" >Prostate Ca. (<tspan font-style="italic">n</tspan> = 39)</text>
<text x="174.30" y="238.22" font-size="7" text-anchor="end" font-weight="bold" fill="#000" stroke="#000" stroke-width="0.25" >100%</text>
<rect x="87.10" y="240.34" width="110.70" height="6.50" fill="#d2d2d2"/>
<rect x="87.10" y="240.34" width="105.64" height="6.50" fill="#7dcbf4"/>
<line x1="83.60" y1="243.59" x2="86.60" y2="243.59" stroke="#333" stroke-width="0.9"/>
<text x="79.80" y="246.09" font-size="7" text-anchor="end" font-weight="bold" fill="#000" stroke="#000" stroke-width="0.25" >HER2<tspan font-size='4.5' dy='-2.5'>+</tspan><tspan dy='2.5'> BC</tspan> (<tspan font-style="italic">n</tspan> = 20)</text>
<text x="168.10" y="246.09" font-size="7" text-anchor="end" font-weight="bold" fill="#000" stroke="#000" stroke-width="0.25" >95%</text>
<rect x="87.10" y="248.21" width="110.70" height="6.50" fill="#d2d2d2"/>
<rect x="87.10" y="248.21" width="101.19" height="6.50" fill="#7dcbf4"/>
<line x1="83.60" y1="251.46" x2="86.60" y2="251.46" stroke="#333" stroke-width="0.9"/>
<text x="79.80" y="253.96" font-size="7" text-anchor="end" font-weight="bold" fill="#000" stroke="#000" stroke-width="0.25" >Esophageal Ca. (<tspan font-style="italic">n</tspan> = 23)</text>
<text x="164.90" y="253.96" font-size="7" text-anchor="end" font-weight="bold" fill="#000" stroke="#000" stroke-width="0.25" >91%</text>
<rect x="87.10" y="256.08" width="110.70" height="6.50" fill="#d2d2d2"/>
<rect x="87.10" y="256.08" width="100.08" height="6.50" fill="#7dcbf4"/>
<line x1="83.60" y1="259.33" x2="86.60" y2="259.33" stroke="#333" stroke-width="0.9"/>
<text x="79.80" y="261.83" font-size="7" text-anchor="end" font-weight="bold" fill="#000" stroke="#000" stroke-width="0.25" >Bladder Ca. (<tspan font-style="italic">n</tspan> = 20)</text>
<text x="163.30" y="261.83" font-size="7" text-anchor="end" font-weight="bold" fill="#000" stroke="#000" stroke-width="0.25" >90%</text>
<rect x="87.10" y="263.95" width="110.70" height="6.50" fill="#d2d2d2"/>
<rect x="87.10" y="263.95" width="100.08" height="6.50" fill="#7dcbf4"/>
<line x1="83.60" y1="267.20" x2="86.60" y2="267.20" stroke="#333" stroke-width="0.9"/>
<text x="79.80" y="269.70" font-size="7" text-anchor="end" font-weight="bold" fill="#000" stroke="#000" stroke-width="0.25" >Endometrial Ca. (<tspan font-style="italic">n</tspan> = 20)</text>
<text x="163.30" y="269.70" font-size="7" text-anchor="end" font-weight="bold" fill="#000" stroke="#000" stroke-width="0.25" >90%</text>
<rect x="87.10" y="271.82" width="110.70" height="6.50" fill="#d2d2d2"/>
<rect x="87.10" y="271.82" width="100.08" height="6.50" fill="#7dcbf4"/>
<line x1="83.60" y1="275.07" x2="86.60" y2="275.07" stroke="#333" stroke-width="0.9"/>
<text x="79.80" y="277.57" font-size="7" text-anchor="end" font-weight="bold" fill="#000" stroke="#000" stroke-width="0.25" >Ovarian adeno (<tspan font-style="italic">n</tspan> = 20)</text>
<text x="163.30" y="277.57" font-size="7" text-anchor="end" font-weight="bold" fill="#000" stroke="#000" stroke-width="0.25" >90%</text>
<rect x="87.10" y="279.69" width="110.70" height="6.50" fill="#d2d2d2"/>
<rect x="87.10" y="279.69" width="94.52" height="6.50" fill="#7dcbf4"/>
<line x1="83.60" y1="282.94" x2="86.60" y2="282.94" stroke="#333" stroke-width="0.9"/>
<text x="79.80" y="285.44" font-size="7" text-anchor="end" font-weight="bold" fill="#000" stroke="#000" stroke-width="0.25" >H&amp;N Ca. (<tspan font-style="italic">n</tspan> = 20)</text>
<text x="160.10" y="285.44" font-size="7" text-anchor="end" font-weight="bold" fill="#000" stroke="#000" stroke-width="0.25" >85%</text>
<rect x="87.10" y="287.56" width="110.70" height="6.50" fill="#d2d2d2"/>
<rect x="87.10" y="287.56" width="94.52" height="6.50" fill="#7dcbf4"/>
<line x1="83.60" y1="290.81" x2="86.60" y2="290.81" stroke="#333" stroke-width="0.9"/>
<text x="79.80" y="293.31" font-size="7" text-anchor="end" font-weight="bold" fill="#000" stroke="#000" stroke-width="0.25" >NSCLC adeno (<tspan font-style="italic">n</tspan> = 20)</text>
<text x="160.10" y="293.31" font-size="7" text-anchor="end" font-weight="bold" fill="#000" stroke="#000" stroke-width="0.25" >85%</text>
<rect x="87.10" y="295.43" width="110.70" height="6.50" fill="#d2d2d2"/>
<rect x="87.10" y="295.43" width="87.85" height="6.50" fill="#7dcbf4"/>
<line x1="83.60" y1="298.68" x2="86.60" y2="298.68" stroke="#333" stroke-width="0.9"/>
<text x="79.80" y="301.18" font-size="7" text-anchor="end" font-weight="bold" fill="#000" stroke="#000" stroke-width="0.25" >TNBC (<tspan font-style="italic">n</tspan> = 24)</text>
<text x="156.30" y="301.18" font-size="7" text-anchor="end" font-weight="bold" fill="#000" stroke="#000" stroke-width="0.25" >79%</text>
<rect x="87.10" y="303.30" width="110.70" height="6.50" fill="#d2d2d2"/>
<rect x="87.10" y="303.30" width="83.40" height="6.50" fill="#7dcbf4"/>
<line x1="83.60" y1="306.55" x2="86.60" y2="306.55" stroke="#333" stroke-width="0.9"/>
<text x="79.80" y="309.05" font-size="7" text-anchor="end" font-weight="bold" fill="#000" stroke="#000" stroke-width="0.25" >NSCLC SCC (<tspan font-style="italic">n</tspan> = 20)</text>
<text x="152.40" y="309.05" font-size="7" text-anchor="end" font-weight="bold" fill="#000" stroke="#000" stroke-width="0.25" >75%</text>
<rect x="87.10" y="311.17" width="110.70" height="6.50" fill="#d2d2d2"/>
<rect x="87.10" y="311.17" width="80.06" height="6.50" fill="#7dcbf4"/>
<line x1="83.60" y1="314.42" x2="86.60" y2="314.42" stroke="#333" stroke-width="0.9"/>
<text x="79.80" y="316.92" font-size="7" text-anchor="end" font-weight="bold" fill="#000" stroke="#000" stroke-width="0.25" >Pancreatic Ca. (<tspan font-style="italic">n</tspan> = 58)</text>
<text x="149.20" y="316.92" font-size="7" text-anchor="end" font-weight="bold" fill="#000" stroke="#000" stroke-width="0.25" >72%</text>
<rect x="87.10" y="319.04" width="110.70" height="6.50" fill="#d2d2d2"/>
<rect x="87.10" y="319.04" width="77.84" height="6.50" fill="#7dcbf4"/>
<line x1="83.60" y1="322.29" x2="86.60" y2="322.29" stroke="#333" stroke-width="0.9"/>
<text x="79.80" y="324.79" font-size="7" text-anchor="end" font-weight="bold" fill="#000" stroke="#000" stroke-width="0.25" >Cervical adeno (<tspan font-style="italic">n</tspan> = 20)</text>
<text x="146.40" y="324.79" font-size="7" text-anchor="end" font-weight="bold" fill="#000" stroke="#000" stroke-width="0.25" >70%</text>
<rect x="87.10" y="326.91" width="110.70" height="6.50" fill="#d2d2d2"/>
<rect x="87.10" y="326.91" width="72.28" height="6.50" fill="#7dcbf4"/>
<line x1="83.60" y1="330.16" x2="86.60" y2="330.16" stroke="#333" stroke-width="0.9"/>
<text x="79.80" y="332.66" font-size="7" text-anchor="end" font-weight="bold" fill="#000" stroke="#000" stroke-width="0.25" >HR<tspan font-size='4.5' dy='-2.5'>+</tspan><tspan dy='2.5'> BC</tspan> (<tspan font-style="italic">n</tspan> = 20)</text>
<text x="142.10" y="332.66" font-size="7" text-anchor="end" font-weight="bold" fill="#000" stroke="#000" stroke-width="0.25" >65%</text>
<rect x="87.10" y="334.78" width="110.70" height="6.50" fill="#d2d2d2"/>
<rect x="87.10" y="334.78" width="66.72" height="6.50" fill="#7dcbf4"/>
<line x1="83.60" y1="338.03" x2="86.60" y2="338.03" stroke="#333" stroke-width="0.9"/>
<text x="79.80" y="340.53" font-size="7" text-anchor="end" font-weight="bold" fill="#000" stroke="#000" stroke-width="0.25" >Gastric Ca. (<tspan font-style="italic">n</tspan> = 20)</text>
<text x="137.40" y="340.53" font-size="7" text-anchor="end" font-weight="bold" fill="#000" stroke="#000" stroke-width="0.25" >60%</text>
<rect x="87.10" y="342.65" width="110.70" height="6.50" fill="#d2d2d2"/>
<rect x="87.10" y="342.65" width="58.94" height="6.50" fill="#7dcbf4"/>
<line x1="83.60" y1="345.90" x2="86.60" y2="345.90" stroke="#333" stroke-width="0.9"/>
<text x="79.80" y="348.40" font-size="7" text-anchor="end" font-weight="bold" fill="#000" stroke="#000" stroke-width="0.25" >Gallbladder ca. (<tspan font-style="italic">n</tspan> = 83)</text>
<text x="132.00" y="348.40" font-size="7" text-anchor="end" font-weight="bold" fill="#000" stroke="#000" stroke-width="0.25" >53%</text>
<rect x="87.10" y="350.52" width="110.70" height="6.50" fill="#d2d2d2"/>
<rect x="87.10" y="350.52" width="50.04" height="6.50" fill="#7dcbf4"/>
<line x1="83.60" y1="353.77" x2="86.60" y2="353.77" stroke="#333" stroke-width="0.9"/>
<text x="79.80" y="356.27" font-size="7" text-anchor="end" font-weight="bold" fill="#000" stroke="#000" stroke-width="0.25" >CRC (<tspan font-style="italic">n</tspan> = 20)</text>
<text x="124.00" y="356.27" font-size="7" text-anchor="end" font-weight="bold" fill="#000" stroke="#000" stroke-width="0.25" >45%</text>
<rect x="87.10" y="358.39" width="110.70" height="6.50" fill="#d2d2d2"/>
<rect x="87.10" y="358.39" width="22.24" height="6.50" fill="#7dcbf4"/>
<line x1="83.60" y1="361.64" x2="86.60" y2="361.64" stroke="#333" stroke-width="0.9"/>
<text x="79.80" y="364.14" font-size="7" text-anchor="end" font-weight="bold" fill="#000" stroke="#000" stroke-width="0.25" >SCLC (<tspan font-style="italic">n</tspan> = 20)</text>
<text x="110.50" y="364.14" font-size="7" text-anchor="end" font-weight="bold" fill="#000" stroke="#000" stroke-width="0.25" >20%</text>
<rect x="87.10" y="366.26" width="110.70" height="6.50" fill="#d2d2d2"/>
<rect x="87.10" y="366.26" width="11.12" height="6.50" fill="#7dcbf4"/>
<line x1="83.60" y1="369.51" x2="86.60" y2="369.51" stroke="#333" stroke-width="0.9"/>
<text x="79.80" y="372.01" font-size="7" text-anchor="end" font-weight="bold" fill="#000" stroke="#000" stroke-width="0.25" >RCC (<tspan font-style="italic">n</tspan> = 20)</text>
<text x="103.40" y="372.01" font-size="7" text-anchor="end" font-weight="bold" fill="#000" stroke="#000" stroke-width="0.25" >10%</text>
<line x1="86.60" y1="223.60" x2="86.60" y2="373.80" stroke="#333" stroke-width="0.9"/>
<line x1="86.15" y1="373.40" x2="197.80" y2="373.40" stroke="#333" stroke-width="0.9"/>
<line x1="86.60" y1="373.40" x2="86.60" y2="375.50" stroke="#333" stroke-width="0.9"/>
<text x="86.60" y="383.00" font-size="7" text-anchor="middle" font-weight="bold" fill="#000" stroke="#000" stroke-width="0.25" >0</text>
<line x1="108.84" y1="373.40" x2="108.84" y2="375.50" stroke="#333" stroke-width="0.9"/>
<text x="108.84" y="383.00" font-size="7" text-anchor="middle" font-weight="bold" fill="#000" stroke="#000" stroke-width="0.25" >20</text>
<line x1="131.08" y1="373.40" x2="131.08" y2="375.50" stroke="#333" stroke-width="0.9"/>
<text x="131.08" y="383.00" font-size="7" text-anchor="middle" font-weight="bold" fill="#000" stroke="#000" stroke-width="0.25" >40</text>
<line x1="153.32" y1="373.40" x2="153.32" y2="375.50" stroke="#333" stroke-width="0.9"/>
<text x="153.32" y="383.00" font-size="7" text-anchor="middle" font-weight="bold" fill="#000" stroke="#000" stroke-width="0.25" >60</text>
<line x1="175.56" y1="373.40" x2="175.56" y2="375.50" stroke="#333" stroke-width="0.9"/>
<text x="175.56" y="383.00" font-size="7" text-anchor="middle" font-weight="bold" fill="#000" stroke="#000" stroke-width="0.25" >80</text>
<line x1="197.80" y1="373.40" x2="197.80" y2="375.50" stroke="#333" stroke-width="0.9"/>
<text x="197.80" y="383.00" font-size="7" text-anchor="middle" font-weight="bold" fill="#000" stroke="#000" stroke-width="0.25" >100</text>
<text x="80.00" y="392.90" font-size="6.9" text-anchor="start" font-weight="bold" fill="#000" stroke="#000" stroke-width="0.25" >Precentage of TROP2 expression (%)</text>
<text x="223.40" y="10.50" font-size="11" text-anchor="start" font-weight="bold" fill="#000" stroke="#000" stroke-width="0.25" >C</text>
<text x="271.60" y="11.10" font-size="8.2" text-anchor="start" font-weight="bold" fill="#000" stroke="#000" stroke-width="0.25" >TROP2 membrane expression in normal and tumor tissues</text>
<text x="422.50" y="27.50" font-size="7" text-anchor="start" font-weight="normal" fill="#62c2f2" stroke="#62c2f2" stroke-width="0.2">Tumor tissue</text>
<text x="470.50" y="27.50" font-size="7" text-anchor="start" font-weight="normal" fill="#9c9c9c" stroke="#9c9c9c" stroke-width="0.2">Normal tissue</text>
<rect x="251.20" y="36.72" width="5.40" height="108.78" fill="#7dcbf4"/>
<rect x="251.60" y="33.75" width="1.50" height="1.50" fill="#2a2a2a"/>
<rect x="253.15" y="33.75" width="1.50" height="1.50" fill="#2a2a2a"/>
<rect x="254.70" y="33.75" width="1.50" height="1.50" fill="#2a2a2a"/>
<rect x="253.15" y="36.52" width="1.50" height="1.50" fill="#2a2a2a"/>
<rect x="251.60" y="39.30" width="1.50" height="1.50" fill="#2a2a2a"/>
<rect x="253.15" y="39.30" width="1.50" height="1.50" fill="#2a2a2a"/>
<rect x="254.70" y="39.30" width="1.50" height="1.50" fill="#2a2a2a"/>
<rect x="251.60" y="44.85" width="1.50" height="1.50" fill="#2a2a2a"/>
<rect x="253.15" y="44.85" width="1.50" height="1.50" fill="#2a2a2a"/>
<rect x="254.70" y="44.85" width="1.50" height="1.50" fill="#2a2a2a"/>
<rect x="253.15" y="50.40" width="1.50" height="1.50" fill="#2a2a2a"/>
<line x1="253.90" y1="145.50" x2="253.90" y2="147.80" stroke="#222" stroke-width="1.0"/>
<text transform="translate(256.10,148.8) rotate(-90)" font-size="6.4" text-anchor="end" font-weight="bold" fill="#000" stroke="#000" stroke-width="0.1">Cervical SCC (<tspan font-style='italic'>n</tspan> = 20)</text>
<rect x="257.80" y="57.25" width="5.40" height="88.25" fill="#7dcbf4"/>
<rect x="259.75" y="33.75" width="1.50" height="1.50" fill="#2a2a2a"/>
<rect x="258.20" y="39.30" width="1.50" height="1.50" fill="#2a2a2a"/>
<rect x="259.75" y="39.30" width="1.50" height="1.50" fill="#2a2a2a"/>
<rect x="261.30" y="39.30" width="1.50" height="1.50" fill="#2a2a2a"/>
<rect x="258.60" y="44.85" width="1.50" height="1.50" fill="#2a2a2a"/>
<rect x="260.90" y="44.85" width="1.50" height="1.50" fill="#2a2a2a"/>
<rect x="259.75" y="50.40" width="1.50" height="1.50" fill="#2a2a2a"/>
<rect x="258.60" y="55.95" width="1.50" height="1.50" fill="#2a2a2a"/>
<rect x="260.90" y="55.95" width="1.50" height="1.50" fill="#2a2a2a"/>
<rect x="259.75" y="61.50" width="1.50" height="1.50" fill="#2a2a2a"/>
<rect x="259.75" y="67.05" width="1.50" height="1.50" fill="#2a2a2a"/>
<rect x="259.75" y="105.90" width="1.50" height="1.50" fill="#2a2a2a"/>
<rect x="259.75" y="117.00" width="1.50" height="1.50" fill="#2a2a2a"/>
<rect x="259.75" y="133.65" width="1.50" height="1.50" fill="#2a2a2a"/>
<rect x="259.75" y="141.42" width="1.50" height="1.50" fill="#2a2a2a"/>
<line x1="260.50" y1="145.50" x2="260.50" y2="147.80" stroke="#222" stroke-width="1.0"/>
<text transform="translate(262.70,148.8) rotate(-90)" font-size="6.4" text-anchor="end" font-weight="bold" fill="#000" stroke="#000" stroke-width="0.1">Cervical adeno (<tspan font-style='italic'>n</tspan> = 20)</text>
<rect x="264.40" y="90.00" width="5.40" height="55.50" fill="#d2d2d2"/>
<rect x="266.35" y="78.15" width="1.50" height="1.50" fill="#2a2a2a"/>
<rect x="266.35" y="89.25" width="1.50" height="1.50" fill="#2a2a2a"/>
<rect x="266.35" y="133.65" width="1.50" height="1.50" fill="#2a2a2a"/>
<line x1="267.10" y1="145.50" x2="267.10" y2="147.80" stroke="#222" stroke-width="1.0"/>
<text transform="translate(269.30,148.8) rotate(-90)" font-size="6.4" text-anchor="end" font-weight="bold" fill="#000" stroke="#000" stroke-width="0.1">Cervix (<tspan font-style='italic'>n</tspan> = 3)</text>
<rect x="274.10" y="34.50" width="5.40" height="111.00" fill="#7dcbf4"/>
<rect x="274.50" y="33.75" width="1.50" height="1.50" fill="#2a2a2a"/>
<rect x="276.05" y="33.75" width="1.50" height="1.50" fill="#2a2a2a"/>
<rect x="277.60" y="33.75" width="1.50" height="1.50" fill="#2a2a2a"/>
<rect x="274.50" y="39.30" width="1.50" height="1.50" fill="#2a2a2a"/>
<rect x="276.05" y="39.30" width="1.50" height="1.50" fill="#2a2a2a"/>
<rect x="277.60" y="39.30" width="1.50" height="1.50" fill="#2a2a2a"/>
<rect x="274.50" y="44.85" width="1.50" height="1.50" fill="#2a2a2a"/>
<rect x="276.05" y="44.85" width="1.50" height="1.50" fill="#2a2a2a"/>
<rect x="277.60" y="44.85" width="1.50" height="1.50" fill="#2a2a2a"/>
<rect x="276.05" y="50.40" width="1.50" height="1.50" fill="#2a2a2a"/>
<rect x="274.90" y="55.95" width="1.50" height="1.50" fill="#2a2a2a"/>
<rect x="277.20" y="55.95" width="1.50" height="1.50" fill="#2a2a2a"/>
<rect x="276.05" y="72.60" width="1.50" height="1.50" fill="#2a2a2a"/>
<rect x="276.05" y="78.15" width="1.50" height="1.50" fill="#2a2a2a"/>
<rect x="276.05" y="133.65" width="1.50" height="1.50" fill="#2a2a2a"/>
<line x1="276.80" y1="145.50" x2="276.80" y2="147.80" stroke="#222" stroke-width="1.0"/>
<text transform="translate(279.00,148.8) rotate(-90)" font-size="6.4" text-anchor="end" font-weight="bold" fill="#000" stroke="#000" stroke-width="0.1">Prostate Ca. (<tspan font-style='italic'>n</tspan> = 39)</text>
<rect x="280.70" y="63.36" width="5.40" height="82.14" fill="#d2d2d2"/>
<rect x="282.65" y="55.95" width="1.50" height="1.50" fill="#2a2a2a"/>
<rect x="282.65" y="67.05" width="1.50" height="1.50" fill="#2a2a2a"/>
<line x1="283.40" y1="145.50" x2="283.40" y2="147.80" stroke="#222" stroke-width="1.0"/>
<text transform="translate(285.60,148.8) rotate(-90)" font-size="6.4" text-anchor="end" font-weight="bold" fill="#000" stroke="#000" stroke-width="0.1">Prostate (<tspan font-style='italic'>n</tspan> = 2)</text>
<line x1="271.50" y1="33.50" x2="271.50" y2="145.50" stroke="#d4d4d4" stroke-width="0.9"/>
<rect x="291.20" y="43.38" width="5.40" height="102.12" fill="#7dcbf4"/>
<rect x="291.60" y="39.30" width="1.50" height="1.50" fill="#2a2a2a"/>
<rect x="293.15" y="39.30" width="1.50" height="1.50" fill="#2a2a2a"/>
<rect x="294.70" y="39.30" width="1.50" height="1.50" fill="#2a2a2a"/>
<rect x="291.60" y="44.85" width="1.50" height="1.50" fill="#2a2a2a"/>
<rect x="293.15" y="44.85" width="1.50" height="1.50" fill="#2a2a2a"/>
<rect x="294.70" y="44.85" width="1.50" height="1.50" fill="#2a2a2a"/>
<rect x="291.60" y="50.40" width="1.50" height="1.50" fill="#2a2a2a"/>
<rect x="293.15" y="50.40" width="1.50" height="1.50" fill="#2a2a2a"/>
<rect x="294.70" y="50.40" width="1.50" height="1.50" fill="#2a2a2a"/>
<rect x="293.15" y="61.50" width="1.50" height="1.50" fill="#2a2a2a"/>
<rect x="293.15" y="72.60" width="1.50" height="1.50" fill="#2a2a2a"/>
<rect x="293.15" y="133.65" width="1.50" height="1.50" fill="#2a2a2a"/>
<line x1="293.90" y1="145.50" x2="293.90" y2="147.80" stroke="#222" stroke-width="1.0"/>
<text transform="translate(296.10,148.8) rotate(-90)" font-size="6.4" text-anchor="end" font-weight="bold" fill="#000" stroke="#000" stroke-width="0.1">HER2<tspan font-size='4' dy='-2'>+</tspan><tspan dy='2'> BC (</tspan><tspan font-style='italic'>n</tspan> = 20)</text>
<rect x="297.80" y="54.48" width="5.40" height="91.02" fill="#7dcbf4"/>
<rect x="298.60" y="39.30" width="1.50" height="1.50" fill="#2a2a2a"/>
<rect x="300.90" y="39.30" width="1.50" height="1.50" fill="#2a2a2a"/>
<rect x="298.60" y="44.85" width="1.50" height="1.50" fill="#2a2a2a"/>
<rect x="300.90" y="44.85" width="1.50" height="1.50" fill="#2a2a2a"/>
<rect x="299.75" y="50.40" width="1.50" height="1.50" fill="#2a2a2a"/>
<rect x="298.60" y="55.95" width="1.50" height="1.50" fill="#2a2a2a"/>
<rect x="300.90" y="55.95" width="1.50" height="1.50" fill="#2a2a2a"/>
<rect x="298.60" y="61.50" width="1.50" height="1.50" fill="#2a2a2a"/>
<rect x="300.90" y="61.50" width="1.50" height="1.50" fill="#2a2a2a"/>
<rect x="298.60" y="78.15" width="1.50" height="1.50" fill="#2a2a2a"/>
<rect x="300.90" y="78.15" width="1.50" height="1.50" fill="#2a2a2a"/>
<rect x="298.60" y="139.20" width="1.50" height="1.50" fill="#2a2a2a"/>
<rect x="300.90" y="139.20" width="1.50" height="1.50" fill="#2a2a2a"/>
<line x1="300.50" y1="145.50" x2="300.50" y2="147.80" stroke="#222" stroke-width="1.0"/>
<text transform="translate(302.70,148.8) rotate(-90)" font-size="6.4" text-anchor="end" font-weight="bold" fill="#000" stroke="#000" stroke-width="0.1">HR<tspan font-size='4' dy='-2'>+</tspan><tspan dy='2'> BC (</tspan><tspan font-style='italic'>n</tspan> = 20)</text>
<rect x="304.40" y="40.05" width="5.40" height="105.45" fill="#7dcbf4"/>
<rect x="304.80" y="33.75" width="1.50" height="1.50" fill="#2a2a2a"/>
<rect x="306.35" y="33.75" width="1.50" height="1.50" fill="#2a2a2a"/>
<rect x="307.90" y="33.75" width="1.50" height="1.50" fill="#2a2a2a"/>
<rect x="305.20" y="39.30" width="1.50" height="1.50" fill="#2a2a2a"/>
<rect x="307.50" y="39.30" width="1.50" height="1.50" fill="#2a2a2a"/>
<rect x="306.35" y="44.85" width="1.50" height="1.50" fill="#2a2a2a"/>
<rect x="306.35" y="50.40" width="1.50" height="1.50" fill="#2a2a2a"/>
<rect x="306.35" y="55.95" width="1.50" height="1.50" fill="#2a2a2a"/>
<rect x="306.35" y="67.05" width="1.50" height="1.50" fill="#2a2a2a"/>
<rect x="306.35" y="78.15" width="1.50" height="1.50" fill="#2a2a2a"/>
<rect x="306.35" y="89.25" width="1.50" height="1.50" fill="#2a2a2a"/>
<rect x="306.35" y="105.90" width="1.50" height="1.50" fill="#2a2a2a"/>
<rect x="306.35" y="111.45" width="1.50" height="1.50" fill="#2a2a2a"/>
<rect x="306.35" y="128.10" width="1.50" height="1.50" fill="#2a2a2a"/>
<line x1="307.10" y1="145.50" x2="307.10" y2="147.80" stroke="#222" stroke-width="1.0"/>
<text transform="translate(309.30,148.8) rotate(-90)" font-size="6.4" text-anchor="end" font-weight="bold" fill="#000" stroke="#000" stroke-width="0.1">TNBC (<tspan font-style='italic'>n</tspan> = 24)</text>
<rect x="311.00" y="95.55" width="5.40" height="49.95" fill="#d2d2d2"/>
<rect x="312.95" y="78.15" width="1.50" height="1.50" fill="#2a2a2a"/>
<rect x="312.95" y="111.45" width="1.50" height="1.50" fill="#2a2a2a"/>
<line x1="313.70" y1="145.50" x2="313.70" y2="147.80" stroke="#222" stroke-width="1.0"/>
<text transform="translate(315.90,148.8) rotate(-90)" font-size="6.4" text-anchor="end" font-weight="bold" fill="#000" stroke="#000" stroke-width="0.1">Breast (<tspan font-style='italic'>n</tspan> = 2)</text>
<line x1="288.60" y1="33.50" x2="288.60" y2="145.50" stroke="#d4d4d4" stroke-width="0.9"/>
<rect x="321.10" y="45.04" width="5.40" height="100.46" fill="#7dcbf4"/>
<rect x="321.90" y="33.00" width="1.40" height="1.40" fill="#2a2a2a"/>
<rect x="323.10" y="34.10" width="1.40" height="1.40" fill="#2a2a2a"/>
<rect x="324.30" y="35.20" width="1.40" height="1.40" fill="#2a2a2a"/>
<rect x="321.70" y="36.40" width="1.40" height="1.40" fill="#2a2a2a"/>
<rect x="323.30" y="36.40" width="1.40" height="1.40" fill="#2a2a2a"/>
<rect x="321.90" y="39.30" width="1.50" height="1.50" fill="#2a2a2a"/>
<rect x="324.20" y="39.30" width="1.50" height="1.50" fill="#2a2a2a"/>
<rect x="321.90" y="44.85" width="1.50" height="1.50" fill="#2a2a2a"/>
<rect x="324.20" y="44.85" width="1.50" height="1.50" fill="#2a2a2a"/>
<rect x="321.90" y="50.40" width="1.50" height="1.50" fill="#2a2a2a"/>
<rect x="324.20" y="50.40" width="1.50" height="1.50" fill="#2a2a2a"/>
<rect x="321.90" y="61.50" width="1.50" height="1.50" fill="#2a2a2a"/>
<rect x="324.20" y="61.50" width="1.50" height="1.50" fill="#2a2a2a"/>
<rect x="321.50" y="67.05" width="1.50" height="1.50" fill="#2a2a2a"/>
<rect x="323.05" y="67.05" width="1.50" height="1.50" fill="#2a2a2a"/>
<rect x="324.60" y="67.05" width="1.50" height="1.50" fill="#2a2a2a"/>
<rect x="323.05" y="89.25" width="1.50" height="1.50" fill="#2a2a2a"/>
<rect x="323.05" y="128.10" width="1.50" height="1.50" fill="#2a2a2a"/>
<line x1="323.80" y1="145.50" x2="323.80" y2="147.80" stroke="#222" stroke-width="1.0"/>
<text transform="translate(326.00,148.8) rotate(-90)" font-size="6.4" text-anchor="end" font-weight="bold" fill="#000" stroke="#000" stroke-width="0.1">Esophageal Ca. (<tspan font-style='italic'>n</tspan> = 23)</text>
<rect x="327.70" y="78.90" width="5.40" height="66.60" fill="#d2d2d2"/>
<rect x="329.65" y="67.05" width="1.50" height="1.50" fill="#2a2a2a"/>
<rect x="329.65" y="78.15" width="1.50" height="1.50" fill="#2a2a2a"/>
<rect x="329.65" y="89.25" width="1.50" height="1.50" fill="#2a2a2a"/>
<line x1="330.40" y1="145.50" x2="330.40" y2="147.80" stroke="#222" stroke-width="1.0"/>
<text transform="translate(332.60,148.8) rotate(-90)" font-size="6.4" text-anchor="end" font-weight="bold" fill="#000" stroke="#000" stroke-width="0.1">Esophagus (<tspan font-style='italic'>n</tspan> = 3)</text>
<line x1="318.50" y1="33.50" x2="318.50" y2="145.50" stroke="#d4d4d4" stroke-width="0.9"/>
<rect x="338.10" y="34.50" width="5.40" height="111.00" fill="#7dcbf4"/>
<rect x="338.50" y="33.75" width="1.50" height="1.50" fill="#2a2a2a"/>
<rect x="340.05" y="33.75" width="1.50" height="1.50" fill="#2a2a2a"/>
<rect x="341.60" y="33.75" width="1.50" height="1.50" fill="#2a2a2a"/>
<rect x="338.90" y="39.30" width="1.50" height="1.50" fill="#2a2a2a"/>
<rect x="341.20" y="39.30" width="1.50" height="1.50" fill="#2a2a2a"/>
<rect x="340.05" y="44.85" width="1.50" height="1.50" fill="#2a2a2a"/>
<rect x="340.05" y="105.90" width="1.50" height="1.50" fill="#2a2a2a"/>
<rect x="340.05" y="142.53" width="1.50" height="1.50" fill="#2a2a2a"/>
<line x1="340.80" y1="145.50" x2="340.80" y2="147.80" stroke="#222" stroke-width="1.0"/>
<text transform="translate(343.00,148.8) rotate(-90)" font-size="6.4" text-anchor="end" font-weight="bold" fill="#000" stroke="#000" stroke-width="0.1">Bladder Ca. (<tspan font-style='italic'>n</tspan> = 20)</text>
<text x="348.20" y="142.80" font-size="6.9" text-anchor="middle" font-weight="normal" fill="#999" >NA</text>
<line x1="347.40" y1="145.50" x2="347.40" y2="147.80" stroke="#222" stroke-width="1.0"/>
<text transform="translate(349.60,148.8) rotate(-90)" font-size="6.4" text-anchor="end" font-weight="bold" fill="#000" stroke="#000" stroke-width="0.1">Bladder (<tspan font-style='italic'>n</tspan> = 0)</text>
<line x1="335.50" y1="33.50" x2="335.50" y2="145.50" stroke="#d4d4d4" stroke-width="0.9"/>
<rect x="355.10" y="42.82" width="5.40" height="102.68" fill="#7dcbf4"/>
<rect x="355.90" y="33.00" width="1.40" height="1.40" fill="#2a2a2a"/>
<rect x="357.10" y="34.10" width="1.40" height="1.40" fill="#2a2a2a"/>
<rect x="358.30" y="35.20" width="1.40" height="1.40" fill="#2a2a2a"/>
<rect x="355.70" y="36.40" width="1.40" height="1.40" fill="#2a2a2a"/>
<rect x="357.30" y="36.40" width="1.40" height="1.40" fill="#2a2a2a"/>
<rect x="355.50" y="39.30" width="1.50" height="1.50" fill="#2a2a2a"/>
<rect x="357.05" y="39.30" width="1.50" height="1.50" fill="#2a2a2a"/>
<rect x="358.60" y="39.30" width="1.50" height="1.50" fill="#2a2a2a"/>
<rect x="355.50" y="44.85" width="1.50" height="1.50" fill="#2a2a2a"/>
<rect x="357.05" y="44.85" width="1.50" height="1.50" fill="#2a2a2a"/>
<rect x="358.60" y="44.85" width="1.50" height="1.50" fill="#2a2a2a"/>
<rect x="357.05" y="55.95" width="1.50" height="1.50" fill="#2a2a2a"/>
<rect x="357.05" y="61.50" width="1.50" height="1.50" fill="#2a2a2a"/>
<rect x="357.05" y="78.15" width="1.50" height="1.50" fill="#2a2a2a"/>
<rect x="357.05" y="111.45" width="1.50" height="1.50" fill="#2a2a2a"/>
<rect x="357.05" y="128.10" width="1.50" height="1.50" fill="#2a2a2a"/>
<line x1="357.80" y1="145.50" x2="357.80" y2="147.80" stroke="#222" stroke-width="1.0"/>
<text transform="translate(360.00,148.8) rotate(-90)" font-size="6.4" text-anchor="end" font-weight="bold" fill="#000" stroke="#000" stroke-width="0.1">Endometrial Ca. (<tspan font-style='italic'>n</tspan> = 20)</text>
<rect x="361.70" y="134.95" width="5.40" height="10.55" fill="#d2d2d2"/>
<rect x="363.65" y="100.35" width="1.50" height="1.50" fill="#2a2a2a"/>
<rect x="363.65" y="133.65" width="1.50" height="1.50" fill="#2a2a2a"/>
<line x1="364.40" y1="145.50" x2="364.40" y2="147.80" stroke="#222" stroke-width="1.0"/>
<text transform="translate(366.60,148.8) rotate(-90)" font-size="6.4" text-anchor="end" font-weight="bold" fill="#000" stroke="#000" stroke-width="0.1">Uterus (<tspan font-style='italic'>n</tspan> = 3)</text>
<line x1="352.50" y1="33.50" x2="352.50" y2="145.50" stroke="#d4d4d4" stroke-width="0.9"/>
<rect x="372.00" y="50.48" width="5.40" height="95.02" fill="#7dcbf4"/>
<rect x="372.40" y="33.75" width="1.50" height="1.50" fill="#2a2a2a"/>
<rect x="373.95" y="33.75" width="1.50" height="1.50" fill="#2a2a2a"/>
<rect x="375.50" y="33.75" width="1.50" height="1.50" fill="#2a2a2a"/>
<rect x="372.40" y="44.85" width="1.50" height="1.50" fill="#2a2a2a"/>
<rect x="373.95" y="44.85" width="1.50" height="1.50" fill="#2a2a2a"/>
<rect x="375.50" y="44.85" width="1.50" height="1.50" fill="#2a2a2a"/>
<rect x="372.80" y="50.40" width="1.50" height="1.50" fill="#2a2a2a"/>
<rect x="375.10" y="50.40" width="1.50" height="1.50" fill="#2a2a2a"/>
<rect x="372.40" y="55.95" width="1.50" height="1.50" fill="#2a2a2a"/>
<rect x="373.95" y="55.95" width="1.50" height="1.50" fill="#2a2a2a"/>
<rect x="375.50" y="55.95" width="1.50" height="1.50" fill="#2a2a2a"/>
<rect x="373.95" y="61.50" width="1.50" height="1.50" fill="#2a2a2a"/>
<rect x="372.45" y="136.98" width="1.50" height="1.50" fill="#2a2a2a"/>
<rect x="375.25" y="139.20" width="1.50" height="1.50" fill="#2a2a2a"/>
<line x1="374.70" y1="145.50" x2="374.70" y2="147.80" stroke="#222" stroke-width="1.0"/>
<text transform="translate(376.90,148.8) rotate(-90)" font-size="6.4" text-anchor="end" font-weight="bold" fill="#000" stroke="#000" stroke-width="0.1">Ovarian adeno (<tspan font-style='italic'>n</tspan> = 20)</text>
<line x1="381.30" y1="145.50" x2="381.30" y2="147.80" stroke="#222" stroke-width="1.0"/>
<text transform="translate(383.50,148.8) rotate(-90)" font-size="6.4" text-anchor="end" font-weight="bold" fill="#000" stroke="#000" stroke-width="0.1">Ovary (<tspan font-style='italic'>n</tspan> = 3)</text>
<line x1="369.40" y1="33.50" x2="369.40" y2="145.50" stroke="#d4d4d4" stroke-width="0.9"/>
<rect x="388.60" y="59.59" width="5.40" height="85.91" fill="#7dcbf4"/>
<rect x="389.40" y="33.75" width="1.50" height="1.50" fill="#2a2a2a"/>
<rect x="391.70" y="33.75" width="1.50" height="1.50" fill="#2a2a2a"/>
<rect x="390.55" y="35.97" width="1.50" height="1.50" fill="#2a2a2a"/>
<rect x="390.55" y="39.30" width="1.50" height="1.50" fill="#2a2a2a"/>
<rect x="389.00" y="44.85" width="1.50" height="1.50" fill="#2a2a2a"/>
<rect x="390.55" y="44.85" width="1.50" height="1.50" fill="#2a2a2a"/>
<rect x="392.10" y="44.85" width="1.50" height="1.50" fill="#2a2a2a"/>
<rect x="389.00" y="50.40" width="1.50" height="1.50" fill="#2a2a2a"/>
<rect x="390.55" y="50.40" width="1.50" height="1.50" fill="#2a2a2a"/>
<rect x="392.10" y="50.40" width="1.50" height="1.50" fill="#2a2a2a"/>
<rect x="390.55" y="67.05" width="1.50" height="1.50" fill="#2a2a2a"/>
<rect x="390.55" y="78.15" width="1.50" height="1.50" fill="#2a2a2a"/>
<rect x="390.55" y="83.70" width="1.50" height="1.50" fill="#2a2a2a"/>
<rect x="390.55" y="89.25" width="1.50" height="1.50" fill="#2a2a2a"/>
<rect x="390.55" y="117.00" width="1.50" height="1.50" fill="#2a2a2a"/>
<rect x="390.55" y="128.10" width="1.50" height="1.50" fill="#2a2a2a"/>
<rect x="389.40" y="133.65" width="1.50" height="1.50" fill="#2a2a2a"/>
<rect x="391.70" y="133.65" width="1.50" height="1.50" fill="#2a2a2a"/>
<rect x="390.55" y="135.87" width="1.50" height="1.50" fill="#2a2a2a"/>
<line x1="391.30" y1="145.50" x2="391.30" y2="147.80" stroke="#222" stroke-width="1.0"/>
<text transform="translate(393.50,148.8) rotate(-90)" font-size="6.4" text-anchor="end" font-weight="bold" fill="#000" stroke="#000" stroke-width="0.1">H&amp;N Ca. (<tspan font-style='italic'>n</tspan> = 20)</text>
<rect x="395.20" y="90.00" width="5.40" height="55.50" fill="#d2d2d2"/>
<rect x="397.15" y="72.60" width="1.50" height="1.50" fill="#2a2a2a"/>
<rect x="397.15" y="89.25" width="1.50" height="1.50" fill="#2a2a2a"/>
<line x1="397.90" y1="145.50" x2="397.90" y2="147.80" stroke="#222" stroke-width="1.0"/>
<text transform="translate(400.10,148.8) rotate(-90)" font-size="6.4" text-anchor="end" font-weight="bold" fill="#000" stroke="#000" stroke-width="0.1">Larynx (<tspan font-style='italic'>n</tspan> = 3)</text>
<line x1="386.00" y1="33.50" x2="386.00" y2="145.50" stroke="#d4d4d4" stroke-width="0.9"/>
<rect x="404.90" y="143.84" width="5.40" height="1.67" fill="#7dcbf4"/>
<rect x="406.85" y="33.75" width="1.50" height="1.50" fill="#2a2a2a"/>
<rect x="406.85" y="72.60" width="1.50" height="1.50" fill="#2a2a2a"/>
<rect x="405.70" y="89.25" width="1.50" height="1.50" fill="#2a2a2a"/>
<rect x="408.00" y="89.25" width="1.50" height="1.50" fill="#2a2a2a"/>
<rect x="406.85" y="100.35" width="1.50" height="1.50" fill="#2a2a2a"/>
<rect x="405.70" y="111.45" width="1.50" height="1.50" fill="#2a2a2a"/>
<rect x="408.00" y="111.45" width="1.50" height="1.50" fill="#2a2a2a"/>
<rect x="406.85" y="133.65" width="1.50" height="1.50" fill="#2a2a2a"/>
<rect x="405.35" y="139.20" width="1.50" height="1.50" fill="#2a2a2a"/>
<rect x="408.15" y="141.42" width="1.50" height="1.50" fill="#2a2a2a"/>
<line x1="407.60" y1="145.50" x2="407.60" y2="147.80" stroke="#222" stroke-width="1.0"/>
<text transform="translate(409.80,148.8) rotate(-90)" font-size="6.4" text-anchor="end" font-weight="bold" fill="#000" stroke="#000" stroke-width="0.1">SCLC (<tspan font-style='italic'>n</tspan> = 20)</text>
<rect x="411.50" y="39.49" width="5.40" height="106.01" fill="#7dcbf4"/>
<rect x="412.30" y="33.75" width="1.50" height="1.50" fill="#2a2a2a"/>
<rect x="414.60" y="33.75" width="1.50" height="1.50" fill="#2a2a2a"/>
<rect x="413.45" y="36.52" width="1.50" height="1.50" fill="#2a2a2a"/>
<rect x="411.90" y="39.30" width="1.50" height="1.50" fill="#2a2a2a"/>
<rect x="413.45" y="39.30" width="1.50" height="1.50" fill="#2a2a2a"/>
<rect x="415.00" y="39.30" width="1.50" height="1.50" fill="#2a2a2a"/>
<rect x="413.45" y="44.85" width="1.50" height="1.50" fill="#2a2a2a"/>
<rect x="413.45" y="50.40" width="1.50" height="1.50" fill="#2a2a2a"/>
<rect x="412.30" y="55.95" width="1.50" height="1.50" fill="#2a2a2a"/>
<rect x="414.60" y="55.95" width="1.50" height="1.50" fill="#2a2a2a"/>
<rect x="413.45" y="111.45" width="1.50" height="1.50" fill="#2a2a2a"/>
<rect x="413.45" y="117.00" width="1.50" height="1.50" fill="#2a2a2a"/>
<rect x="413.45" y="122.55" width="1.50" height="1.50" fill="#2a2a2a"/>
<rect x="413.45" y="133.65" width="1.50" height="1.50" fill="#2a2a2a"/>
<line x1="414.20" y1="145.50" x2="414.20" y2="147.80" stroke="#222" stroke-width="1.0"/>
<text transform="translate(416.40,148.8) rotate(-90)" font-size="6.4" text-anchor="end" font-weight="bold" fill="#000" stroke="#000" stroke-width="0.1">NSCLC SCC (<tspan font-style='italic'>n</tspan> = 20)</text>
<rect x="418.10" y="39.49" width="5.40" height="106.01" fill="#7dcbf4"/>
<rect x="418.50" y="33.75" width="1.50" height="1.50" fill="#2a2a2a"/>
<rect x="420.05" y="33.75" width="1.50" height="1.50" fill="#2a2a2a"/>
<rect x="421.60" y="33.75" width="1.50" height="1.50" fill="#2a2a2a"/>
<rect x="418.50" y="39.30" width="1.50" height="1.50" fill="#2a2a2a"/>
<rect x="420.05" y="39.30" width="1.50" height="1.50" fill="#2a2a2a"/>
<rect x="421.60" y="39.30" width="1.50" height="1.50" fill="#2a2a2a"/>
<rect x="418.90" y="44.85" width="1.50" height="1.50" fill="#2a2a2a"/>
<rect x="421.20" y="44.85" width="1.50" height="1.50" fill="#2a2a2a"/>
<rect x="418.90" y="50.40" width="1.50" height="1.50" fill="#2a2a2a"/>
<rect x="421.20" y="50.40" width="1.50" height="1.50" fill="#2a2a2a"/>
<rect x="418.90" y="55.95" width="1.50" height="1.50" fill="#2a2a2a"/>
<rect x="421.20" y="55.95" width="1.50" height="1.50" fill="#2a2a2a"/>
<rect x="420.05" y="72.60" width="1.50" height="1.50" fill="#2a2a2a"/>
<rect x="420.05" y="111.45" width="1.50" height="1.50" fill="#2a2a2a"/>
<line x1="420.80" y1="145.50" x2="420.80" y2="147.80" stroke="#222" stroke-width="1.0"/>
<text transform="translate(423.00,148.8) rotate(-90)" font-size="6.4" text-anchor="end" font-weight="bold" fill="#000" stroke="#000" stroke-width="0.1">NSCLC adeno (<tspan font-style='italic'>n</tspan> = 20)</text>
<line x1="427.40" y1="145.50" x2="427.40" y2="147.80" stroke="#222" stroke-width="1.0"/>
<text transform="translate(429.60,148.8) rotate(-90)" font-size="6.4" text-anchor="end" font-weight="bold" fill="#000" stroke="#000" stroke-width="0.1">Lung (<tspan font-style='italic'>n</tspan> = 3)</text>
<line x1="402.30" y1="33.50" x2="402.30" y2="145.50" stroke="#d4d4d4" stroke-width="0.9"/>
<rect x="434.70" y="45.04" width="5.40" height="100.46" fill="#7dcbf4"/>
<rect x="435.10" y="33.75" width="1.50" height="1.50" fill="#2a2a2a"/>
<rect x="436.65" y="33.75" width="1.50" height="1.50" fill="#2a2a2a"/>
<rect x="438.20" y="33.75" width="1.50" height="1.50" fill="#2a2a2a"/>
<rect x="436.65" y="37.08" width="1.50" height="1.50" fill="#2a2a2a"/>
<rect x="435.10" y="39.30" width="1.50" height="1.50" fill="#2a2a2a"/>
<rect x="436.65" y="39.30" width="1.50" height="1.50" fill="#2a2a2a"/>
<rect x="438.20" y="39.30" width="1.50" height="1.50" fill="#2a2a2a"/>
<rect x="435.10" y="44.85" width="1.50" height="1.50" fill="#2a2a2a"/>
<rect x="436.65" y="44.85" width="1.50" height="1.50" fill="#2a2a2a"/>
<rect x="438.20" y="44.85" width="1.50" height="1.50" fill="#2a2a2a"/>
<rect x="436.65" y="50.40" width="1.50" height="1.50" fill="#2a2a2a"/>
<rect x="435.10" y="55.95" width="1.50" height="1.50" fill="#2a2a2a"/>
<rect x="436.65" y="55.95" width="1.50" height="1.50" fill="#2a2a2a"/>
<rect x="438.20" y="55.95" width="1.50" height="1.50" fill="#2a2a2a"/>
<rect x="435.10" y="67.05" width="1.50" height="1.50" fill="#2a2a2a"/>
<rect x="436.65" y="67.05" width="1.50" height="1.50" fill="#2a2a2a"/>
<rect x="438.20" y="67.05" width="1.50" height="1.50" fill="#2a2a2a"/>
<rect x="435.50" y="78.15" width="1.50" height="1.50" fill="#2a2a2a"/>
<rect x="437.80" y="78.15" width="1.50" height="1.50" fill="#2a2a2a"/>
<rect x="435.10" y="89.25" width="1.50" height="1.50" fill="#2a2a2a"/>
<rect x="436.65" y="89.25" width="1.50" height="1.50" fill="#2a2a2a"/>
<rect x="438.20" y="89.25" width="1.50" height="1.50" fill="#2a2a2a"/>
<rect x="435.50" y="100.35" width="1.50" height="1.50" fill="#2a2a2a"/>
<rect x="437.80" y="100.35" width="1.50" height="1.50" fill="#2a2a2a"/>
<rect x="436.65" y="111.45" width="1.50" height="1.50" fill="#2a2a2a"/>
<rect x="436.65" y="117.00" width="1.50" height="1.50" fill="#2a2a2a"/>
<rect x="435.50" y="122.55" width="1.50" height="1.50" fill="#2a2a2a"/>
<rect x="437.80" y="122.55" width="1.50" height="1.50" fill="#2a2a2a"/>
<rect x="436.65" y="133.65" width="1.50" height="1.50" fill="#2a2a2a"/>
<line x1="437.40" y1="145.50" x2="437.40" y2="147.80" stroke="#222" stroke-width="1.0"/>
<text transform="translate(439.60,148.8) rotate(-90)" font-size="6.4" text-anchor="end" font-weight="bold" fill="#000" stroke="#000" stroke-width="0.1">Pancreatic Ca. (<tspan font-style='italic'>n</tspan> = 58)</text>
<rect x="441.30" y="62.47" width="5.40" height="83.03" fill="#d2d2d2"/>
<rect x="443.25" y="50.40" width="1.50" height="1.50" fill="#2a2a2a"/>
<rect x="443.25" y="61.50" width="1.50" height="1.50" fill="#2a2a2a"/>
<rect x="443.25" y="72.60" width="1.50" height="1.50" fill="#2a2a2a"/>
<line x1="444.00" y1="145.50" x2="444.00" y2="147.80" stroke="#222" stroke-width="1.0"/>
<text transform="translate(446.20,148.8) rotate(-90)" font-size="6.4" text-anchor="end" font-weight="bold" fill="#000" stroke="#000" stroke-width="0.1">Pancreas (<tspan font-style='italic'>n</tspan> = 3)</text>
<line x1="432.10" y1="33.50" x2="432.10" y2="145.50" stroke="#d4d4d4" stroke-width="0.9"/>
<rect x="451.70" y="71.13" width="5.40" height="74.37" fill="#7dcbf4"/>
<rect x="452.50" y="33.75" width="1.50" height="1.50" fill="#2a2a2a"/>
<rect x="454.80" y="33.75" width="1.50" height="1.50" fill="#2a2a2a"/>
<rect x="452.50" y="39.30" width="1.50" height="1.50" fill="#2a2a2a"/>
<rect x="454.80" y="39.30" width="1.50" height="1.50" fill="#2a2a2a"/>
<rect x="452.10" y="50.40" width="1.50" height="1.50" fill="#2a2a2a"/>
<rect x="453.65" y="50.40" width="1.50" height="1.50" fill="#2a2a2a"/>
<rect x="455.20" y="50.40" width="1.50" height="1.50" fill="#2a2a2a"/>
<rect x="453.65" y="61.50" width="1.50" height="1.50" fill="#2a2a2a"/>
<rect x="453.65" y="67.05" width="1.50" height="1.50" fill="#2a2a2a"/>
<rect x="453.65" y="72.60" width="1.50" height="1.50" fill="#2a2a2a"/>
<rect x="453.65" y="83.70" width="1.50" height="1.50" fill="#2a2a2a"/>
<rect x="453.65" y="94.80" width="1.50" height="1.50" fill="#2a2a2a"/>
<rect x="453.65" y="100.35" width="1.50" height="1.50" fill="#2a2a2a"/>
<rect x="452.50" y="117.00" width="1.50" height="1.50" fill="#2a2a2a"/>
<rect x="454.80" y="117.00" width="1.50" height="1.50" fill="#2a2a2a"/>
<rect x="453.65" y="133.65" width="1.50" height="1.50" fill="#2a2a2a"/>
<rect x="453.65" y="139.20" width="1.50" height="1.50" fill="#2a2a2a"/>
<line x1="454.40" y1="145.50" x2="454.40" y2="147.80" stroke="#222" stroke-width="1.0"/>
<text transform="translate(456.60,148.8) rotate(-90)" font-size="6.4" text-anchor="end" font-weight="bold" fill="#000" stroke="#000" stroke-width="0.1">Gastric Ca. (<tspan font-style='italic'>n</tspan> = 20)</text>
<line x1="461.00" y1="145.50" x2="461.00" y2="147.80" stroke="#222" stroke-width="1.0"/>
<text transform="translate(463.20,148.8) rotate(-90)" font-size="6.4" text-anchor="end" font-weight="bold" fill="#000" stroke="#000" stroke-width="0.1">Stomach (<tspan font-style='italic'>n</tspan> = 3)</text>
<line x1="449.10" y1="33.50" x2="449.10" y2="145.50" stroke="#d4d4d4" stroke-width="0.9"/>
<rect x="468.90" y="78.90" width="5.40" height="66.60" fill="#7dcbf4"/>
<rect x="469.30" y="33.75" width="1.50" height="1.50" fill="#2a2a2a"/>
<rect x="470.85" y="33.75" width="1.50" height="1.50" fill="#2a2a2a"/>
<rect x="472.40" y="33.75" width="1.50" height="1.50" fill="#2a2a2a"/>
<rect x="469.30" y="39.30" width="1.50" height="1.50" fill="#2a2a2a"/>
<rect x="470.85" y="39.30" width="1.50" height="1.50" fill="#2a2a2a"/>
<rect x="472.40" y="39.30" width="1.50" height="1.50" fill="#2a2a2a"/>
<rect x="469.30" y="44.85" width="1.50" height="1.50" fill="#2a2a2a"/>
<rect x="470.85" y="44.85" width="1.50" height="1.50" fill="#2a2a2a"/>
<rect x="472.40" y="44.85" width="1.50" height="1.50" fill="#2a2a2a"/>
<rect x="469.30" y="50.40" width="1.50" height="1.50" fill="#2a2a2a"/>
<rect x="470.85" y="50.40" width="1.50" height="1.50" fill="#2a2a2a"/>
<rect x="472.40" y="50.40" width="1.50" height="1.50" fill="#2a2a2a"/>
<rect x="469.70" y="55.95" width="1.50" height="1.50" fill="#2a2a2a"/>
<rect x="472.00" y="55.95" width="1.50" height="1.50" fill="#2a2a2a"/>
<rect x="469.30" y="61.50" width="1.50" height="1.50" fill="#2a2a2a"/>
<rect x="470.85" y="61.50" width="1.50" height="1.50" fill="#2a2a2a"/>
<rect x="472.40" y="61.50" width="1.50" height="1.50" fill="#2a2a2a"/>
<rect x="469.30" y="67.05" width="1.50" height="1.50" fill="#2a2a2a"/>
<rect x="470.85" y="67.05" width="1.50" height="1.50" fill="#2a2a2a"/>
<rect x="472.40" y="67.05" width="1.50" height="1.50" fill="#2a2a2a"/>
<rect x="470.85" y="72.60" width="1.50" height="1.50" fill="#2a2a2a"/>
<rect x="469.30" y="78.15" width="1.50" height="1.50" fill="#2a2a2a"/>
<rect x="470.85" y="78.15" width="1.50" height="1.50" fill="#2a2a2a"/>
<rect x="472.40" y="78.15" width="1.50" height="1.50" fill="#2a2a2a"/>
<rect x="469.70" y="89.25" width="1.50" height="1.50" fill="#2a2a2a"/>
<rect x="472.00" y="89.25" width="1.50" height="1.50" fill="#2a2a2a"/>
<rect x="470.85" y="100.35" width="1.50" height="1.50" fill="#2a2a2a"/>
<rect x="469.30" y="111.45" width="1.50" height="1.50" fill="#2a2a2a"/>
<rect x="470.85" y="111.45" width="1.50" height="1.50" fill="#2a2a2a"/>
<rect x="472.40" y="111.45" width="1.50" height="1.50" fill="#2a2a2a"/>
<rect x="469.70" y="122.55" width="1.50" height="1.50" fill="#2a2a2a"/>
<rect x="472.00" y="122.55" width="1.50" height="1.50" fill="#2a2a2a"/>
<rect x="470.85" y="133.65" width="1.50" height="1.50" fill="#2a2a2a"/>
<rect x="469.30" y="139.20" width="1.50" height="1.50" fill="#2a2a2a"/>
<rect x="470.85" y="139.20" width="1.50" height="1.50" fill="#2a2a2a"/>
<rect x="472.40" y="139.20" width="1.50" height="1.50" fill="#2a2a2a"/>
<rect x="470.85" y="142.53" width="1.50" height="1.50" fill="#2a2a2a"/>
<line x1="471.60" y1="145.50" x2="471.60" y2="147.80" stroke="#222" stroke-width="1.0"/>
<text transform="translate(473.80,148.8) rotate(-90)" font-size="6.4" text-anchor="end" font-weight="bold" fill="#000" stroke="#000" stroke-width="0.1">Gallbladder ca. (<tspan font-style='italic'>n</tspan> = 83)</text>
<rect x="475.50" y="134.62" width="5.40" height="10.88" fill="#d2d2d2"/>
<rect x="477.45" y="128.10" width="1.50" height="1.50" fill="#2a2a2a"/>
<rect x="476.30" y="133.65" width="1.50" height="1.50" fill="#2a2a2a"/>
<rect x="478.60" y="133.65" width="1.50" height="1.50" fill="#2a2a2a"/>
<rect x="477.45" y="136.98" width="1.50" height="1.50" fill="#2a2a2a"/>
<line x1="478.20" y1="145.50" x2="478.20" y2="147.80" stroke="#222" stroke-width="1.0"/>
<text transform="translate(480.40,148.8) rotate(-90)" font-size="6.4" text-anchor="end" font-weight="bold" fill="#000" stroke="#000" stroke-width="0.1">Gallbladder (<tspan font-style='italic'>n</tspan> = 5)</text>
<line x1="466.30" y1="33.50" x2="466.30" y2="145.50" stroke="#d4d4d4" stroke-width="0.9"/>
<rect x="485.60" y="126.19" width="5.40" height="19.31" fill="#7dcbf4"/>
<rect x="486.40" y="33.75" width="1.50" height="1.50" fill="#2a2a2a"/>
<rect x="488.70" y="33.75" width="1.50" height="1.50" fill="#2a2a2a"/>
<rect x="486.40" y="39.30" width="1.50" height="1.50" fill="#2a2a2a"/>
<rect x="488.70" y="39.30" width="1.50" height="1.50" fill="#2a2a2a"/>
<rect x="487.55" y="55.95" width="1.50" height="1.50" fill="#2a2a2a"/>
<rect x="487.55" y="61.50" width="1.50" height="1.50" fill="#2a2a2a"/>
<rect x="486.40" y="89.25" width="1.50" height="1.50" fill="#2a2a2a"/>
<rect x="488.70" y="89.25" width="1.50" height="1.50" fill="#2a2a2a"/>
<rect x="487.55" y="117.00" width="1.50" height="1.50" fill="#2a2a2a"/>
<rect x="487.55" y="122.55" width="1.50" height="1.50" fill="#2a2a2a"/>
<rect x="487.55" y="128.10" width="1.50" height="1.50" fill="#2a2a2a"/>
<rect x="487.55" y="133.65" width="1.50" height="1.50" fill="#2a2a2a"/>
<rect x="486.40" y="142.53" width="1.50" height="1.50" fill="#2a2a2a"/>
<rect x="488.70" y="142.53" width="1.50" height="1.50" fill="#2a2a2a"/>
<line x1="488.30" y1="145.50" x2="488.30" y2="147.80" stroke="#222" stroke-width="1.0"/>
<text transform="translate(490.50,148.8) rotate(-90)" font-size="6.4" text-anchor="end" font-weight="bold" fill="#000" stroke="#000" stroke-width="0.1">CRC (<tspan font-style='italic'>n</tspan> = 20)</text>
<line x1="494.90" y1="145.50" x2="494.90" y2="147.80" stroke="#222" stroke-width="1.0"/>
<text transform="translate(497.10,148.8) rotate(-90)" font-size="6.4" text-anchor="end" font-weight="bold" fill="#000" stroke="#000" stroke-width="0.1">Colon (<tspan font-style='italic'>n</tspan> = 3)</text>
<line x1="483.00" y1="33.50" x2="483.00" y2="145.50" stroke="#d4d4d4" stroke-width="0.9"/>
<rect x="504.35" y="50.40" width="1.50" height="1.50" fill="#2a2a2a"/>
<rect x="504.35" y="61.50" width="1.50" height="1.50" fill="#2a2a2a"/>
<line x1="505.10" y1="145.50" x2="505.10" y2="147.80" stroke="#222" stroke-width="1.0"/>
<text transform="translate(507.30,148.8) rotate(-90)" font-size="6.4" text-anchor="end" font-weight="bold" fill="#000" stroke="#000" stroke-width="0.1">RCC (<tspan font-style='italic'>n</tspan> = 20)</text>
<rect x="509.00" y="112.75" width="5.40" height="32.75" fill="#d2d2d2"/>
<rect x="510.95" y="94.80" width="1.50" height="1.50" fill="#2a2a2a"/>
<rect x="509.80" y="111.45" width="1.50" height="1.50" fill="#2a2a2a"/>
<rect x="512.10" y="111.45" width="1.50" height="1.50" fill="#2a2a2a"/>
<line x1="511.70" y1="145.50" x2="511.70" y2="147.80" stroke="#222" stroke-width="1.0"/>
<text transform="translate(513.90,148.8) rotate(-90)" font-size="6.4" text-anchor="end" font-weight="bold" fill="#000" stroke="#000" stroke-width="0.1">Kidney (<tspan font-style='italic'>n</tspan> = 3)</text>
<line x1="499.80" y1="33.50" x2="499.80" y2="145.50" stroke="#d4d4d4" stroke-width="0.9"/>
<line x1="248.70" y1="34.20" x2="248.70" y2="145.90" stroke="#333" stroke-width="0.9"/>
<line x1="248.70" y1="145.50" x2="519.00" y2="145.50" stroke="#333" stroke-width="0.9"/>
<line x1="246.60" y1="145.50" x2="248.70" y2="145.50" stroke="#333" stroke-width="0.9"/>
<text x="245.60" y="147.60" font-size="7" text-anchor="end" font-weight="bold" fill="#000" stroke="#000" stroke-width="0.25" >0</text>
<line x1="246.60" y1="90.00" x2="248.70" y2="90.00" stroke="#333" stroke-width="0.9"/>
<text x="245.60" y="92.10" font-size="7" text-anchor="end" font-weight="bold" fill="#000" stroke="#000" stroke-width="0.25" >50</text>
<line x1="246.60" y1="34.50" x2="248.70" y2="34.50" stroke="#333" stroke-width="0.9"/>
<text x="245.60" y="36.60" font-size="7" text-anchor="end" font-weight="bold" fill="#000" stroke="#000" stroke-width="0.25" >100</text>
<text transform="translate(231.9,90.3) rotate(-90)" font-size="7" text-anchor="middle" font-weight="bold" fill="#000" stroke="#000" stroke-width="0.25">Percentage of TROP2 expressing cells</text>
</svg>
</body></html>
